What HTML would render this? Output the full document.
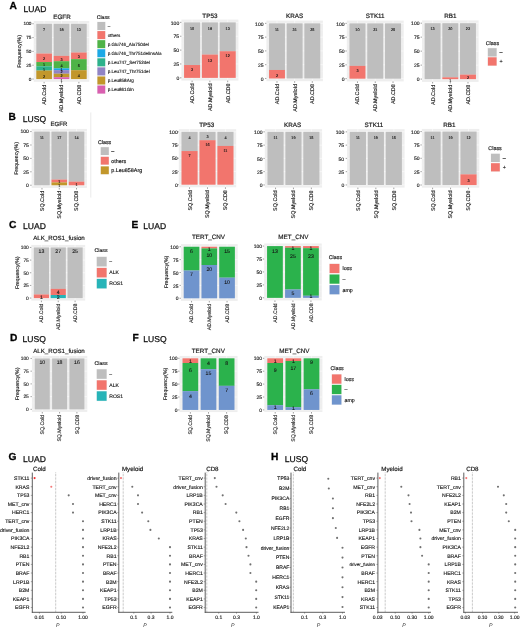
<!DOCTYPE html>
<html lang="en"><head><meta charset="utf-8"><title>Driver alterations by immune subtype</title>
<style>html,body{margin:0;padding:0;background:#fff;}body{width:520px;height:630px;overflow:hidden;}svg{display:block;font-family:"Liberation Sans", Arial, sans-serif;}text{text-rendering:geometricPrecision;}#shapes{filter:blur(0.3px);}#labels{filter:blur(0.33px);}#counts{filter:blur(0.2px);}</style></head><body>
<svg width="520" height="630" viewBox="0 0 520 630" font-family='"Liberation Sans", Arial, sans-serif'>
<rect x="0" y="0" width="520" height="630" fill="#fff"/>
<g id="shapes">
<rect x="33.70" y="21.00" width="55.60" height="60.80" fill="#EEEEEE"/>
<line x1="33.70" y1="72.13" x2="89.30" y2="72.13" stroke="#F5F5F5" stroke-width="0.3"/>
<line x1="33.70" y1="58.31" x2="89.30" y2="58.31" stroke="#F5F5F5" stroke-width="0.3"/>
<line x1="33.70" y1="44.49" x2="89.30" y2="44.49" stroke="#F5F5F5" stroke-width="0.3"/>
<line x1="33.70" y1="30.67" x2="89.30" y2="30.67" stroke="#F5F5F5" stroke-width="0.3"/>
<line x1="33.70" y1="79.04" x2="89.30" y2="79.04" stroke="#FFFFFF" stroke-width="0.55"/>
<line x1="33.70" y1="65.22" x2="89.30" y2="65.22" stroke="#FFFFFF" stroke-width="0.55"/>
<line x1="33.70" y1="51.40" x2="89.30" y2="51.40" stroke="#FFFFFF" stroke-width="0.55"/>
<line x1="33.70" y1="37.58" x2="89.30" y2="37.58" stroke="#FFFFFF" stroke-width="0.55"/>
<line x1="33.70" y1="23.76" x2="89.30" y2="23.76" stroke="#FFFFFF" stroke-width="0.55"/>
<line x1="44.12" y1="21.00" x2="44.12" y2="81.80" stroke="#FFFFFF" stroke-width="0.55"/>
<line x1="61.50" y1="21.00" x2="61.50" y2="81.80" stroke="#FFFFFF" stroke-width="0.55"/>
<line x1="78.88" y1="21.00" x2="78.88" y2="81.80" stroke="#FFFFFF" stroke-width="0.55"/>
<line x1="32.30" y1="79.04" x2="33.70" y2="79.04" stroke="#444" stroke-width="0.5"/>
<line x1="32.30" y1="65.22" x2="33.70" y2="65.22" stroke="#444" stroke-width="0.5"/>
<line x1="32.30" y1="51.40" x2="33.70" y2="51.40" stroke="#444" stroke-width="0.5"/>
<line x1="32.30" y1="37.58" x2="33.70" y2="37.58" stroke="#444" stroke-width="0.5"/>
<line x1="32.30" y1="23.76" x2="33.70" y2="23.76" stroke="#444" stroke-width="0.5"/>
<rect x="36.31" y="23.76" width="15.64" height="29.81" fill="#BEBEBE"/>
<rect x="36.31" y="53.53" width="15.64" height="8.55" fill="#F2756D"/>
<rect x="36.31" y="62.03" width="15.64" height="4.30" fill="#4FB347"/>
<rect x="36.31" y="66.28" width="15.64" height="4.30" fill="#2DB28C"/>
<rect x="36.31" y="70.53" width="15.64" height="8.55" fill="#C2972B"/>
<line x1="44.12" y1="81.80" x2="44.12" y2="83.40" stroke="#444" stroke-width="0.5"/>
<rect x="53.68" y="23.76" width="15.64" height="32.14" fill="#BEBEBE"/>
<rect x="53.68" y="55.86" width="15.64" height="5.40" fill="#F2756D"/>
<rect x="53.68" y="61.21" width="15.64" height="7.18" fill="#4FB347"/>
<rect x="53.68" y="68.34" width="15.64" height="1.83" fill="#1CA9E6"/>
<rect x="53.68" y="70.12" width="15.64" height="3.62" fill="#9184C4"/>
<rect x="53.68" y="73.69" width="15.64" height="3.62" fill="#C2972B"/>
<rect x="53.68" y="77.25" width="15.64" height="1.83" fill="#D95FB0"/>
<line x1="61.50" y1="81.80" x2="61.50" y2="83.40" stroke="#444" stroke-width="0.5"/>
<rect x="71.06" y="23.76" width="15.64" height="28.79" fill="#BEBEBE"/>
<rect x="71.06" y="52.51" width="15.64" height="6.68" fill="#F2756D"/>
<rect x="71.06" y="59.14" width="15.64" height="11.10" fill="#4FB347"/>
<rect x="71.06" y="70.19" width="15.64" height="8.89" fill="#C2972B"/>
<line x1="78.88" y1="81.80" x2="78.88" y2="83.40" stroke="#444" stroke-width="0.5"/>
<rect x="97.00" y="21.60" width="8.60" height="8.80" fill="#F2F2F2"/>
<rect x="97.40" y="22.00" width="7.80" height="8.00" fill="#BEBEBE"/>
<rect x="97.00" y="30.68" width="8.60" height="8.80" fill="#F2F2F2"/>
<rect x="97.40" y="31.08" width="7.80" height="8.00" fill="#F2756D"/>
<rect x="97.00" y="39.76" width="8.60" height="8.80" fill="#F2F2F2"/>
<rect x="97.40" y="40.16" width="7.80" height="8.00" fill="#4FB347"/>
<rect x="97.00" y="48.84" width="8.60" height="8.80" fill="#F2F2F2"/>
<rect x="97.40" y="49.24" width="7.80" height="8.00" fill="#1CA9E6"/>
<rect x="97.00" y="57.92" width="8.60" height="8.80" fill="#F2F2F2"/>
<rect x="97.40" y="58.32" width="7.80" height="8.00" fill="#2DB28C"/>
<rect x="97.00" y="67.00" width="8.60" height="8.80" fill="#F2F2F2"/>
<rect x="97.40" y="67.40" width="7.80" height="8.00" fill="#9184C4"/>
<rect x="97.00" y="76.08" width="8.60" height="8.80" fill="#F2F2F2"/>
<rect x="97.40" y="76.48" width="7.80" height="8.00" fill="#C2972B"/>
<rect x="97.00" y="85.16" width="8.60" height="8.80" fill="#F2F2F2"/>
<rect x="97.40" y="85.56" width="7.80" height="8.00" fill="#D95FB0"/>
<rect x="181.40" y="19.60" width="57.00" height="61.00" fill="#EEEEEE"/>
<line x1="181.40" y1="70.90" x2="238.40" y2="70.90" stroke="#F5F5F5" stroke-width="0.3"/>
<line x1="181.40" y1="57.03" x2="238.40" y2="57.03" stroke="#F5F5F5" stroke-width="0.3"/>
<line x1="181.40" y1="43.17" x2="238.40" y2="43.17" stroke="#F5F5F5" stroke-width="0.3"/>
<line x1="181.40" y1="29.30" x2="238.40" y2="29.30" stroke="#F5F5F5" stroke-width="0.3"/>
<line x1="181.40" y1="77.83" x2="238.40" y2="77.83" stroke="#FFFFFF" stroke-width="0.55"/>
<line x1="181.40" y1="63.96" x2="238.40" y2="63.96" stroke="#FFFFFF" stroke-width="0.55"/>
<line x1="181.40" y1="50.10" x2="238.40" y2="50.10" stroke="#FFFFFF" stroke-width="0.55"/>
<line x1="181.40" y1="36.24" x2="238.40" y2="36.24" stroke="#FFFFFF" stroke-width="0.55"/>
<line x1="181.40" y1="22.37" x2="238.40" y2="22.37" stroke="#FFFFFF" stroke-width="0.55"/>
<line x1="192.09" y1="19.60" x2="192.09" y2="80.60" stroke="#FFFFFF" stroke-width="0.55"/>
<line x1="209.90" y1="19.60" x2="209.90" y2="80.60" stroke="#FFFFFF" stroke-width="0.55"/>
<line x1="227.71" y1="19.60" x2="227.71" y2="80.60" stroke="#FFFFFF" stroke-width="0.55"/>
<line x1="180.00" y1="77.83" x2="181.40" y2="77.83" stroke="#444" stroke-width="0.5"/>
<line x1="180.00" y1="63.96" x2="181.40" y2="63.96" stroke="#444" stroke-width="0.5"/>
<line x1="180.00" y1="50.10" x2="181.40" y2="50.10" stroke="#444" stroke-width="0.5"/>
<line x1="180.00" y1="36.24" x2="181.40" y2="36.24" stroke="#444" stroke-width="0.5"/>
<line x1="180.00" y1="22.37" x2="181.40" y2="22.37" stroke="#444" stroke-width="0.5"/>
<rect x="184.07" y="22.37" width="16.03" height="42.71" fill="#BEBEBE"/>
<rect x="184.07" y="65.03" width="16.03" height="12.85" fill="#F2756D"/>
<line x1="192.09" y1="80.60" x2="192.09" y2="82.20" stroke="#444" stroke-width="0.5"/>
<rect x="201.88" y="22.37" width="16.03" height="32.25" fill="#BEBEBE"/>
<rect x="201.88" y="54.57" width="16.03" height="23.31" fill="#F2756D"/>
<line x1="209.90" y1="80.60" x2="209.90" y2="82.20" stroke="#444" stroke-width="0.5"/>
<rect x="219.70" y="22.37" width="16.03" height="28.89" fill="#BEBEBE"/>
<rect x="219.70" y="51.21" width="16.03" height="26.67" fill="#F2756D"/>
<line x1="227.71" y1="80.60" x2="227.71" y2="82.20" stroke="#444" stroke-width="0.5"/>
<rect x="266.40" y="20.60" width="56.50" height="60.60" fill="#EEEEEE"/>
<line x1="266.40" y1="71.56" x2="322.90" y2="71.56" stroke="#F5F5F5" stroke-width="0.3"/>
<line x1="266.40" y1="57.79" x2="322.90" y2="57.79" stroke="#F5F5F5" stroke-width="0.3"/>
<line x1="266.40" y1="44.01" x2="322.90" y2="44.01" stroke="#F5F5F5" stroke-width="0.3"/>
<line x1="266.40" y1="30.24" x2="322.90" y2="30.24" stroke="#F5F5F5" stroke-width="0.3"/>
<line x1="266.40" y1="78.45" x2="322.90" y2="78.45" stroke="#FFFFFF" stroke-width="0.55"/>
<line x1="266.40" y1="64.67" x2="322.90" y2="64.67" stroke="#FFFFFF" stroke-width="0.55"/>
<line x1="266.40" y1="50.90" x2="322.90" y2="50.90" stroke="#FFFFFF" stroke-width="0.55"/>
<line x1="266.40" y1="37.13" x2="322.90" y2="37.13" stroke="#FFFFFF" stroke-width="0.55"/>
<line x1="266.40" y1="23.35" x2="322.90" y2="23.35" stroke="#FFFFFF" stroke-width="0.55"/>
<line x1="276.99" y1="20.60" x2="276.99" y2="81.20" stroke="#FFFFFF" stroke-width="0.55"/>
<line x1="294.65" y1="20.60" x2="294.65" y2="81.20" stroke="#FFFFFF" stroke-width="0.55"/>
<line x1="312.31" y1="20.60" x2="312.31" y2="81.20" stroke="#FFFFFF" stroke-width="0.55"/>
<line x1="265.00" y1="78.45" x2="266.40" y2="78.45" stroke="#444" stroke-width="0.5"/>
<line x1="265.00" y1="64.67" x2="266.40" y2="64.67" stroke="#444" stroke-width="0.5"/>
<line x1="265.00" y1="50.90" x2="266.40" y2="50.90" stroke="#444" stroke-width="0.5"/>
<line x1="265.00" y1="37.13" x2="266.40" y2="37.13" stroke="#444" stroke-width="0.5"/>
<line x1="265.00" y1="23.35" x2="266.40" y2="23.35" stroke="#444" stroke-width="0.5"/>
<rect x="269.05" y="23.35" width="15.89" height="46.67" fill="#BEBEBE"/>
<rect x="269.05" y="69.97" width="15.89" height="8.53" fill="#F2756D"/>
<line x1="276.99" y1="81.20" x2="276.99" y2="82.80" stroke="#444" stroke-width="0.5"/>
<rect x="286.70" y="23.35" width="15.89" height="55.14" fill="#BEBEBE"/>
<line x1="294.65" y1="81.20" x2="294.65" y2="82.80" stroke="#444" stroke-width="0.5"/>
<rect x="304.36" y="23.35" width="15.89" height="55.14" fill="#BEBEBE"/>
<line x1="312.31" y1="81.20" x2="312.31" y2="82.80" stroke="#444" stroke-width="0.5"/>
<rect x="346.80" y="20.60" width="56.90" height="60.80" fill="#EEEEEE"/>
<line x1="346.80" y1="71.73" x2="403.70" y2="71.73" stroke="#F5F5F5" stroke-width="0.3"/>
<line x1="346.80" y1="57.91" x2="403.70" y2="57.91" stroke="#F5F5F5" stroke-width="0.3"/>
<line x1="346.80" y1="44.09" x2="403.70" y2="44.09" stroke="#F5F5F5" stroke-width="0.3"/>
<line x1="346.80" y1="30.27" x2="403.70" y2="30.27" stroke="#F5F5F5" stroke-width="0.3"/>
<line x1="346.80" y1="78.64" x2="403.70" y2="78.64" stroke="#FFFFFF" stroke-width="0.55"/>
<line x1="346.80" y1="64.82" x2="403.70" y2="64.82" stroke="#FFFFFF" stroke-width="0.55"/>
<line x1="346.80" y1="51.00" x2="403.70" y2="51.00" stroke="#FFFFFF" stroke-width="0.55"/>
<line x1="346.80" y1="37.18" x2="403.70" y2="37.18" stroke="#FFFFFF" stroke-width="0.55"/>
<line x1="346.80" y1="23.36" x2="403.70" y2="23.36" stroke="#FFFFFF" stroke-width="0.55"/>
<line x1="357.47" y1="20.60" x2="357.47" y2="81.40" stroke="#FFFFFF" stroke-width="0.55"/>
<line x1="375.25" y1="20.60" x2="375.25" y2="81.40" stroke="#FFFFFF" stroke-width="0.55"/>
<line x1="393.03" y1="20.60" x2="393.03" y2="81.40" stroke="#FFFFFF" stroke-width="0.55"/>
<line x1="345.40" y1="78.64" x2="346.80" y2="78.64" stroke="#444" stroke-width="0.5"/>
<line x1="345.40" y1="64.82" x2="346.80" y2="64.82" stroke="#444" stroke-width="0.5"/>
<line x1="345.40" y1="51.00" x2="346.80" y2="51.00" stroke="#444" stroke-width="0.5"/>
<line x1="345.40" y1="37.18" x2="346.80" y2="37.18" stroke="#444" stroke-width="0.5"/>
<line x1="345.40" y1="23.36" x2="346.80" y2="23.36" stroke="#444" stroke-width="0.5"/>
<rect x="349.47" y="23.36" width="16.00" height="42.57" fill="#BEBEBE"/>
<rect x="349.47" y="65.88" width="16.00" height="12.81" fill="#F2756D"/>
<line x1="357.47" y1="81.40" x2="357.47" y2="83.00" stroke="#444" stroke-width="0.5"/>
<rect x="367.25" y="23.36" width="16.00" height="55.32" fill="#BEBEBE"/>
<line x1="375.25" y1="81.40" x2="375.25" y2="83.00" stroke="#444" stroke-width="0.5"/>
<rect x="385.03" y="23.36" width="16.00" height="55.32" fill="#BEBEBE"/>
<line x1="393.03" y1="81.40" x2="393.03" y2="83.00" stroke="#444" stroke-width="0.5"/>
<rect x="422.00" y="20.40" width="56.60" height="61.50" fill="#EEEEEE"/>
<line x1="422.00" y1="72.12" x2="478.60" y2="72.12" stroke="#F5F5F5" stroke-width="0.3"/>
<line x1="422.00" y1="58.14" x2="478.60" y2="58.14" stroke="#F5F5F5" stroke-width="0.3"/>
<line x1="422.00" y1="44.16" x2="478.60" y2="44.16" stroke="#F5F5F5" stroke-width="0.3"/>
<line x1="422.00" y1="30.18" x2="478.60" y2="30.18" stroke="#F5F5F5" stroke-width="0.3"/>
<line x1="422.00" y1="79.10" x2="478.60" y2="79.10" stroke="#FFFFFF" stroke-width="0.55"/>
<line x1="422.00" y1="65.13" x2="478.60" y2="65.13" stroke="#FFFFFF" stroke-width="0.55"/>
<line x1="422.00" y1="51.15" x2="478.60" y2="51.15" stroke="#FFFFFF" stroke-width="0.55"/>
<line x1="422.00" y1="37.17" x2="478.60" y2="37.17" stroke="#FFFFFF" stroke-width="0.55"/>
<line x1="422.00" y1="23.20" x2="478.60" y2="23.20" stroke="#FFFFFF" stroke-width="0.55"/>
<line x1="432.61" y1="20.40" x2="432.61" y2="81.90" stroke="#FFFFFF" stroke-width="0.55"/>
<line x1="450.30" y1="20.40" x2="450.30" y2="81.90" stroke="#FFFFFF" stroke-width="0.55"/>
<line x1="467.99" y1="20.40" x2="467.99" y2="81.90" stroke="#FFFFFF" stroke-width="0.55"/>
<line x1="420.60" y1="79.10" x2="422.00" y2="79.10" stroke="#444" stroke-width="0.5"/>
<line x1="420.60" y1="65.13" x2="422.00" y2="65.13" stroke="#444" stroke-width="0.5"/>
<line x1="420.60" y1="51.15" x2="422.00" y2="51.15" stroke="#444" stroke-width="0.5"/>
<line x1="420.60" y1="37.17" x2="422.00" y2="37.17" stroke="#444" stroke-width="0.5"/>
<line x1="420.60" y1="23.20" x2="422.00" y2="23.20" stroke="#444" stroke-width="0.5"/>
<rect x="424.65" y="23.20" width="15.92" height="55.96" fill="#BEBEBE"/>
<line x1="432.61" y1="81.90" x2="432.61" y2="83.50" stroke="#444" stroke-width="0.5"/>
<rect x="442.34" y="23.20" width="15.92" height="54.16" fill="#BEBEBE"/>
<rect x="442.34" y="77.30" width="15.92" height="1.85" fill="#F2756D"/>
<line x1="450.30" y1="81.90" x2="450.30" y2="83.50" stroke="#444" stroke-width="0.5"/>
<rect x="460.03" y="23.20" width="15.92" height="51.49" fill="#BEBEBE"/>
<rect x="460.03" y="74.63" width="15.92" height="4.52" fill="#F2756D"/>
<line x1="467.99" y1="81.90" x2="467.99" y2="83.50" stroke="#444" stroke-width="0.5"/>
<rect x="487.50" y="47.80" width="9.50" height="9.10" fill="#F2F2F2"/>
<rect x="487.90" y="48.20" width="8.70" height="8.30" fill="#BEBEBE"/>
<rect x="487.50" y="56.90" width="9.50" height="9.10" fill="#F2F2F2"/>
<rect x="487.90" y="57.30" width="8.70" height="8.30" fill="#F2756D"/>
<line x1="90.80" y1="112.50" x2="90.80" y2="197.50" stroke="#DADADA" stroke-width="0.6"/>
<rect x="31.60" y="128.90" width="55.30" height="59.00" fill="#EEEEEE"/>
<line x1="31.60" y1="178.51" x2="86.90" y2="178.51" stroke="#F5F5F5" stroke-width="0.3"/>
<line x1="31.60" y1="165.10" x2="86.90" y2="165.10" stroke="#F5F5F5" stroke-width="0.3"/>
<line x1="31.60" y1="151.70" x2="86.90" y2="151.70" stroke="#F5F5F5" stroke-width="0.3"/>
<line x1="31.60" y1="138.29" x2="86.90" y2="138.29" stroke="#F5F5F5" stroke-width="0.3"/>
<line x1="31.60" y1="185.22" x2="86.90" y2="185.22" stroke="#FFFFFF" stroke-width="0.55"/>
<line x1="31.60" y1="171.81" x2="86.90" y2="171.81" stroke="#FFFFFF" stroke-width="0.55"/>
<line x1="31.60" y1="158.40" x2="86.90" y2="158.40" stroke="#FFFFFF" stroke-width="0.55"/>
<line x1="31.60" y1="144.99" x2="86.90" y2="144.99" stroke="#FFFFFF" stroke-width="0.55"/>
<line x1="31.60" y1="131.58" x2="86.90" y2="131.58" stroke="#FFFFFF" stroke-width="0.55"/>
<line x1="41.97" y1="128.90" x2="41.97" y2="187.90" stroke="#FFFFFF" stroke-width="0.55"/>
<line x1="59.25" y1="128.90" x2="59.25" y2="187.90" stroke="#FFFFFF" stroke-width="0.55"/>
<line x1="76.53" y1="128.90" x2="76.53" y2="187.90" stroke="#FFFFFF" stroke-width="0.55"/>
<line x1="30.20" y1="185.22" x2="31.60" y2="185.22" stroke="#444" stroke-width="0.5"/>
<line x1="30.20" y1="171.81" x2="31.60" y2="171.81" stroke="#444" stroke-width="0.5"/>
<line x1="30.20" y1="158.40" x2="31.60" y2="158.40" stroke="#444" stroke-width="0.5"/>
<line x1="30.20" y1="144.99" x2="31.60" y2="144.99" stroke="#444" stroke-width="0.5"/>
<line x1="30.20" y1="131.58" x2="31.60" y2="131.58" stroke="#444" stroke-width="0.5"/>
<rect x="34.19" y="131.58" width="15.55" height="53.69" fill="#BEBEBE"/>
<line x1="41.97" y1="187.90" x2="41.97" y2="189.50" stroke="#444" stroke-width="0.5"/>
<rect x="51.47" y="131.58" width="15.55" height="48.04" fill="#BEBEBE"/>
<rect x="51.47" y="179.57" width="15.55" height="2.87" fill="#F2756D"/>
<rect x="51.47" y="182.40" width="15.55" height="2.87" fill="#C2972B"/>
<line x1="59.25" y1="187.90" x2="59.25" y2="189.50" stroke="#444" stroke-width="0.5"/>
<rect x="68.75" y="131.58" width="15.55" height="50.11" fill="#BEBEBE"/>
<rect x="68.75" y="181.64" width="15.55" height="3.63" fill="#F2756D"/>
<line x1="76.53" y1="187.90" x2="76.53" y2="189.50" stroke="#444" stroke-width="0.5"/>
<rect x="100.40" y="146.80" width="8.80" height="8.60" fill="#F2F2F2"/>
<rect x="100.80" y="147.20" width="8.00" height="7.80" fill="#BEBEBE"/>
<rect x="100.40" y="156.40" width="8.80" height="8.60" fill="#F2F2F2"/>
<rect x="100.80" y="156.80" width="8.00" height="7.80" fill="#F2756D"/>
<rect x="100.40" y="166.00" width="8.80" height="8.60" fill="#F2F2F2"/>
<rect x="100.80" y="166.40" width="8.00" height="7.80" fill="#C2972B"/>
<rect x="178.80" y="129.20" width="57.40" height="58.10" fill="#EEEEEE"/>
<line x1="178.80" y1="178.06" x2="236.20" y2="178.06" stroke="#F5F5F5" stroke-width="0.3"/>
<line x1="178.80" y1="164.85" x2="236.20" y2="164.85" stroke="#F5F5F5" stroke-width="0.3"/>
<line x1="178.80" y1="151.65" x2="236.20" y2="151.65" stroke="#F5F5F5" stroke-width="0.3"/>
<line x1="178.80" y1="138.44" x2="236.20" y2="138.44" stroke="#F5F5F5" stroke-width="0.3"/>
<line x1="178.80" y1="184.66" x2="236.20" y2="184.66" stroke="#FFFFFF" stroke-width="0.55"/>
<line x1="178.80" y1="171.45" x2="236.20" y2="171.45" stroke="#FFFFFF" stroke-width="0.55"/>
<line x1="178.80" y1="158.25" x2="236.20" y2="158.25" stroke="#FFFFFF" stroke-width="0.55"/>
<line x1="178.80" y1="145.05" x2="236.20" y2="145.05" stroke="#FFFFFF" stroke-width="0.55"/>
<line x1="178.80" y1="131.84" x2="236.20" y2="131.84" stroke="#FFFFFF" stroke-width="0.55"/>
<line x1="189.56" y1="129.20" x2="189.56" y2="187.30" stroke="#FFFFFF" stroke-width="0.55"/>
<line x1="207.50" y1="129.20" x2="207.50" y2="187.30" stroke="#FFFFFF" stroke-width="0.55"/>
<line x1="225.44" y1="129.20" x2="225.44" y2="187.30" stroke="#FFFFFF" stroke-width="0.55"/>
<line x1="177.40" y1="184.66" x2="178.80" y2="184.66" stroke="#444" stroke-width="0.5"/>
<line x1="177.40" y1="171.45" x2="178.80" y2="171.45" stroke="#444" stroke-width="0.5"/>
<line x1="177.40" y1="158.25" x2="178.80" y2="158.25" stroke="#444" stroke-width="0.5"/>
<line x1="177.40" y1="145.05" x2="178.80" y2="145.05" stroke="#444" stroke-width="0.5"/>
<line x1="177.40" y1="131.84" x2="178.80" y2="131.84" stroke="#444" stroke-width="0.5"/>
<rect x="181.49" y="131.84" width="16.14" height="19.26" fill="#BEBEBE"/>
<rect x="181.49" y="151.05" width="16.14" height="33.66" fill="#F2756D"/>
<line x1="189.56" y1="187.30" x2="189.56" y2="188.90" stroke="#444" stroke-width="0.5"/>
<rect x="199.43" y="131.84" width="16.14" height="8.39" fill="#BEBEBE"/>
<rect x="199.43" y="140.18" width="16.14" height="44.53" fill="#F2756D"/>
<line x1="207.50" y1="187.30" x2="207.50" y2="188.90" stroke="#444" stroke-width="0.5"/>
<rect x="217.37" y="131.84" width="16.14" height="14.13" fill="#BEBEBE"/>
<rect x="217.37" y="145.93" width="16.14" height="38.78" fill="#F2756D"/>
<line x1="225.44" y1="187.30" x2="225.44" y2="188.90" stroke="#444" stroke-width="0.5"/>
<rect x="264.80" y="129.20" width="57.30" height="58.40" fill="#EEEEEE"/>
<line x1="264.80" y1="178.31" x2="322.10" y2="178.31" stroke="#F5F5F5" stroke-width="0.3"/>
<line x1="264.80" y1="165.04" x2="322.10" y2="165.04" stroke="#F5F5F5" stroke-width="0.3"/>
<line x1="264.80" y1="151.76" x2="322.10" y2="151.76" stroke="#F5F5F5" stroke-width="0.3"/>
<line x1="264.80" y1="138.49" x2="322.10" y2="138.49" stroke="#F5F5F5" stroke-width="0.3"/>
<line x1="264.80" y1="184.95" x2="322.10" y2="184.95" stroke="#FFFFFF" stroke-width="0.55"/>
<line x1="264.80" y1="171.67" x2="322.10" y2="171.67" stroke="#FFFFFF" stroke-width="0.55"/>
<line x1="264.80" y1="158.40" x2="322.10" y2="158.40" stroke="#FFFFFF" stroke-width="0.55"/>
<line x1="264.80" y1="145.13" x2="322.10" y2="145.13" stroke="#FFFFFF" stroke-width="0.55"/>
<line x1="264.80" y1="131.85" x2="322.10" y2="131.85" stroke="#FFFFFF" stroke-width="0.55"/>
<line x1="275.54" y1="129.20" x2="275.54" y2="187.60" stroke="#FFFFFF" stroke-width="0.55"/>
<line x1="293.45" y1="129.20" x2="293.45" y2="187.60" stroke="#FFFFFF" stroke-width="0.55"/>
<line x1="311.36" y1="129.20" x2="311.36" y2="187.60" stroke="#FFFFFF" stroke-width="0.55"/>
<line x1="263.40" y1="184.95" x2="264.80" y2="184.95" stroke="#444" stroke-width="0.5"/>
<line x1="263.40" y1="171.67" x2="264.80" y2="171.67" stroke="#444" stroke-width="0.5"/>
<line x1="263.40" y1="158.40" x2="264.80" y2="158.40" stroke="#444" stroke-width="0.5"/>
<line x1="263.40" y1="145.13" x2="264.80" y2="145.13" stroke="#444" stroke-width="0.5"/>
<line x1="263.40" y1="131.85" x2="264.80" y2="131.85" stroke="#444" stroke-width="0.5"/>
<rect x="267.49" y="131.85" width="16.12" height="53.14" fill="#BEBEBE"/>
<line x1="275.54" y1="187.60" x2="275.54" y2="189.20" stroke="#444" stroke-width="0.5"/>
<rect x="285.39" y="131.85" width="16.12" height="53.14" fill="#BEBEBE"/>
<line x1="293.45" y1="187.60" x2="293.45" y2="189.20" stroke="#444" stroke-width="0.5"/>
<rect x="303.30" y="131.85" width="16.12" height="53.14" fill="#BEBEBE"/>
<line x1="311.36" y1="187.60" x2="311.36" y2="189.20" stroke="#444" stroke-width="0.5"/>
<rect x="347.10" y="129.20" width="57.50" height="58.40" fill="#EEEEEE"/>
<line x1="347.10" y1="178.31" x2="404.60" y2="178.31" stroke="#F5F5F5" stroke-width="0.3"/>
<line x1="347.10" y1="165.04" x2="404.60" y2="165.04" stroke="#F5F5F5" stroke-width="0.3"/>
<line x1="347.10" y1="151.76" x2="404.60" y2="151.76" stroke="#F5F5F5" stroke-width="0.3"/>
<line x1="347.10" y1="138.49" x2="404.60" y2="138.49" stroke="#F5F5F5" stroke-width="0.3"/>
<line x1="347.10" y1="184.95" x2="404.60" y2="184.95" stroke="#FFFFFF" stroke-width="0.55"/>
<line x1="347.10" y1="171.67" x2="404.60" y2="171.67" stroke="#FFFFFF" stroke-width="0.55"/>
<line x1="347.10" y1="158.40" x2="404.60" y2="158.40" stroke="#FFFFFF" stroke-width="0.55"/>
<line x1="347.10" y1="145.13" x2="404.60" y2="145.13" stroke="#FFFFFF" stroke-width="0.55"/>
<line x1="347.10" y1="131.85" x2="404.60" y2="131.85" stroke="#FFFFFF" stroke-width="0.55"/>
<line x1="357.88" y1="129.20" x2="357.88" y2="187.60" stroke="#FFFFFF" stroke-width="0.55"/>
<line x1="375.85" y1="129.20" x2="375.85" y2="187.60" stroke="#FFFFFF" stroke-width="0.55"/>
<line x1="393.82" y1="129.20" x2="393.82" y2="187.60" stroke="#FFFFFF" stroke-width="0.55"/>
<line x1="345.70" y1="184.95" x2="347.10" y2="184.95" stroke="#444" stroke-width="0.5"/>
<line x1="345.70" y1="171.67" x2="347.10" y2="171.67" stroke="#444" stroke-width="0.5"/>
<line x1="345.70" y1="158.40" x2="347.10" y2="158.40" stroke="#444" stroke-width="0.5"/>
<line x1="345.70" y1="145.13" x2="347.10" y2="145.13" stroke="#444" stroke-width="0.5"/>
<line x1="345.70" y1="131.85" x2="347.10" y2="131.85" stroke="#444" stroke-width="0.5"/>
<rect x="349.80" y="131.85" width="16.17" height="53.14" fill="#BEBEBE"/>
<line x1="357.88" y1="187.60" x2="357.88" y2="189.20" stroke="#444" stroke-width="0.5"/>
<rect x="367.76" y="131.85" width="16.17" height="53.14" fill="#BEBEBE"/>
<line x1="375.85" y1="187.60" x2="375.85" y2="189.20" stroke="#444" stroke-width="0.5"/>
<rect x="385.73" y="131.85" width="16.17" height="53.14" fill="#BEBEBE"/>
<line x1="393.82" y1="187.60" x2="393.82" y2="189.20" stroke="#444" stroke-width="0.5"/>
<rect x="421.80" y="128.90" width="57.50" height="58.80" fill="#EEEEEE"/>
<line x1="421.80" y1="178.35" x2="479.30" y2="178.35" stroke="#F5F5F5" stroke-width="0.3"/>
<line x1="421.80" y1="164.98" x2="479.30" y2="164.98" stroke="#F5F5F5" stroke-width="0.3"/>
<line x1="421.80" y1="151.62" x2="479.30" y2="151.62" stroke="#F5F5F5" stroke-width="0.3"/>
<line x1="421.80" y1="138.25" x2="479.30" y2="138.25" stroke="#F5F5F5" stroke-width="0.3"/>
<line x1="421.80" y1="185.03" x2="479.30" y2="185.03" stroke="#FFFFFF" stroke-width="0.55"/>
<line x1="421.80" y1="171.66" x2="479.30" y2="171.66" stroke="#FFFFFF" stroke-width="0.55"/>
<line x1="421.80" y1="158.30" x2="479.30" y2="158.30" stroke="#FFFFFF" stroke-width="0.55"/>
<line x1="421.80" y1="144.94" x2="479.30" y2="144.94" stroke="#FFFFFF" stroke-width="0.55"/>
<line x1="421.80" y1="131.57" x2="479.30" y2="131.57" stroke="#FFFFFF" stroke-width="0.55"/>
<line x1="432.58" y1="128.90" x2="432.58" y2="187.70" stroke="#FFFFFF" stroke-width="0.55"/>
<line x1="450.55" y1="128.90" x2="450.55" y2="187.70" stroke="#FFFFFF" stroke-width="0.55"/>
<line x1="468.52" y1="128.90" x2="468.52" y2="187.70" stroke="#FFFFFF" stroke-width="0.55"/>
<line x1="420.40" y1="185.03" x2="421.80" y2="185.03" stroke="#444" stroke-width="0.5"/>
<line x1="420.40" y1="171.66" x2="421.80" y2="171.66" stroke="#444" stroke-width="0.5"/>
<line x1="420.40" y1="158.30" x2="421.80" y2="158.30" stroke="#444" stroke-width="0.5"/>
<line x1="420.40" y1="144.94" x2="421.80" y2="144.94" stroke="#444" stroke-width="0.5"/>
<line x1="420.40" y1="131.57" x2="421.80" y2="131.57" stroke="#444" stroke-width="0.5"/>
<rect x="424.50" y="131.57" width="16.17" height="53.50" fill="#BEBEBE"/>
<line x1="432.58" y1="187.70" x2="432.58" y2="189.30" stroke="#444" stroke-width="0.5"/>
<rect x="442.46" y="131.57" width="16.17" height="53.50" fill="#BEBEBE"/>
<line x1="450.55" y1="187.70" x2="450.55" y2="189.30" stroke="#444" stroke-width="0.5"/>
<rect x="460.43" y="131.57" width="16.17" height="42.81" fill="#BEBEBE"/>
<rect x="460.43" y="174.34" width="16.17" height="10.74" fill="#F2756D"/>
<line x1="468.52" y1="187.70" x2="468.52" y2="189.30" stroke="#444" stroke-width="0.5"/>
<rect x="490.60" y="153.40" width="9.60" height="9.00" fill="#F2F2F2"/>
<rect x="491.00" y="153.80" width="8.80" height="8.20" fill="#BEBEBE"/>
<rect x="490.60" y="162.80" width="9.60" height="9.00" fill="#F2F2F2"/>
<rect x="491.00" y="163.20" width="8.80" height="8.20" fill="#F2756D"/>
<rect x="31.30" y="244.90" width="53.90" height="55.70" fill="#EEEEEE"/>
<line x1="31.30" y1="291.74" x2="85.20" y2="291.74" stroke="#F5F5F5" stroke-width="0.3"/>
<line x1="31.30" y1="279.08" x2="85.20" y2="279.08" stroke="#F5F5F5" stroke-width="0.3"/>
<line x1="31.30" y1="266.42" x2="85.20" y2="266.42" stroke="#F5F5F5" stroke-width="0.3"/>
<line x1="31.30" y1="253.76" x2="85.20" y2="253.76" stroke="#F5F5F5" stroke-width="0.3"/>
<line x1="31.30" y1="298.07" x2="85.20" y2="298.07" stroke="#FFFFFF" stroke-width="0.55"/>
<line x1="31.30" y1="285.41" x2="85.20" y2="285.41" stroke="#FFFFFF" stroke-width="0.55"/>
<line x1="31.30" y1="272.75" x2="85.20" y2="272.75" stroke="#FFFFFF" stroke-width="0.55"/>
<line x1="31.30" y1="260.09" x2="85.20" y2="260.09" stroke="#FFFFFF" stroke-width="0.55"/>
<line x1="31.30" y1="247.43" x2="85.20" y2="247.43" stroke="#FFFFFF" stroke-width="0.55"/>
<line x1="41.41" y1="244.90" x2="41.41" y2="300.60" stroke="#FFFFFF" stroke-width="0.55"/>
<line x1="58.25" y1="244.90" x2="58.25" y2="300.60" stroke="#FFFFFF" stroke-width="0.55"/>
<line x1="75.09" y1="244.90" x2="75.09" y2="300.60" stroke="#FFFFFF" stroke-width="0.55"/>
<line x1="29.90" y1="298.07" x2="31.30" y2="298.07" stroke="#444" stroke-width="0.5"/>
<line x1="29.90" y1="285.41" x2="31.30" y2="285.41" stroke="#444" stroke-width="0.5"/>
<line x1="29.90" y1="272.75" x2="31.30" y2="272.75" stroke="#444" stroke-width="0.5"/>
<line x1="29.90" y1="260.09" x2="31.30" y2="260.09" stroke="#444" stroke-width="0.5"/>
<line x1="29.90" y1="247.43" x2="31.30" y2="247.43" stroke="#444" stroke-width="0.5"/>
<rect x="33.83" y="247.43" width="15.16" height="47.07" fill="#BEBEBE"/>
<rect x="33.83" y="294.45" width="15.16" height="3.67" fill="#F2756D"/>
<line x1="41.41" y1="300.60" x2="41.41" y2="302.20" stroke="#444" stroke-width="0.5"/>
<rect x="50.67" y="247.43" width="15.16" height="41.48" fill="#BEBEBE"/>
<rect x="50.67" y="288.86" width="15.16" height="6.19" fill="#F2756D"/>
<rect x="50.67" y="295.00" width="15.16" height="3.12" fill="#27B4B8"/>
<line x1="58.25" y1="300.60" x2="58.25" y2="302.20" stroke="#444" stroke-width="0.5"/>
<rect x="67.51" y="247.43" width="15.16" height="50.69" fill="#BEBEBE"/>
<line x1="75.09" y1="300.60" x2="75.09" y2="302.20" stroke="#444" stroke-width="0.5"/>
<rect x="96.40" y="256.50" width="10.60" height="10.30" fill="#F2F2F2"/>
<rect x="96.80" y="256.90" width="9.80" height="9.50" fill="#BEBEBE"/>
<rect x="96.40" y="267.50" width="10.60" height="10.30" fill="#F2F2F2"/>
<rect x="96.80" y="267.90" width="9.80" height="9.50" fill="#F2756D"/>
<rect x="96.40" y="278.50" width="10.60" height="10.30" fill="#F2F2F2"/>
<rect x="96.80" y="278.90" width="9.80" height="9.50" fill="#27B4B8"/>
<rect x="31.90" y="355.90" width="55.40" height="56.00" fill="#EEEEEE"/>
<line x1="31.90" y1="402.99" x2="87.30" y2="402.99" stroke="#F5F5F5" stroke-width="0.3"/>
<line x1="31.90" y1="390.26" x2="87.30" y2="390.26" stroke="#F5F5F5" stroke-width="0.3"/>
<line x1="31.90" y1="377.54" x2="87.30" y2="377.54" stroke="#F5F5F5" stroke-width="0.3"/>
<line x1="31.90" y1="364.81" x2="87.30" y2="364.81" stroke="#F5F5F5" stroke-width="0.3"/>
<line x1="31.90" y1="409.35" x2="87.30" y2="409.35" stroke="#FFFFFF" stroke-width="0.55"/>
<line x1="31.90" y1="396.63" x2="87.30" y2="396.63" stroke="#FFFFFF" stroke-width="0.55"/>
<line x1="31.90" y1="383.90" x2="87.30" y2="383.90" stroke="#FFFFFF" stroke-width="0.55"/>
<line x1="31.90" y1="371.17" x2="87.30" y2="371.17" stroke="#FFFFFF" stroke-width="0.55"/>
<line x1="31.90" y1="358.45" x2="87.30" y2="358.45" stroke="#FFFFFF" stroke-width="0.55"/>
<line x1="42.29" y1="355.90" x2="42.29" y2="411.90" stroke="#FFFFFF" stroke-width="0.55"/>
<line x1="59.60" y1="355.90" x2="59.60" y2="411.90" stroke="#FFFFFF" stroke-width="0.55"/>
<line x1="76.91" y1="355.90" x2="76.91" y2="411.90" stroke="#FFFFFF" stroke-width="0.55"/>
<line x1="30.50" y1="409.35" x2="31.90" y2="409.35" stroke="#444" stroke-width="0.5"/>
<line x1="30.50" y1="396.63" x2="31.90" y2="396.63" stroke="#444" stroke-width="0.5"/>
<line x1="30.50" y1="383.90" x2="31.90" y2="383.90" stroke="#444" stroke-width="0.5"/>
<line x1="30.50" y1="371.17" x2="31.90" y2="371.17" stroke="#444" stroke-width="0.5"/>
<line x1="30.50" y1="358.45" x2="31.90" y2="358.45" stroke="#444" stroke-width="0.5"/>
<rect x="34.80" y="358.45" width="14.98" height="50.96" fill="#BEBEBE"/>
<line x1="42.29" y1="411.90" x2="42.29" y2="413.50" stroke="#444" stroke-width="0.5"/>
<rect x="52.11" y="358.45" width="14.98" height="50.96" fill="#BEBEBE"/>
<line x1="59.60" y1="411.90" x2="59.60" y2="413.50" stroke="#444" stroke-width="0.5"/>
<rect x="69.42" y="358.45" width="14.98" height="50.96" fill="#BEBEBE"/>
<line x1="76.91" y1="411.90" x2="76.91" y2="413.50" stroke="#444" stroke-width="0.5"/>
<rect x="96.40" y="368.90" width="10.60" height="10.30" fill="#F2F2F2"/>
<rect x="96.80" y="369.30" width="9.80" height="9.50" fill="#BEBEBE"/>
<rect x="96.40" y="379.90" width="10.60" height="10.30" fill="#F2F2F2"/>
<rect x="96.80" y="380.30" width="9.80" height="9.50" fill="#F2756D"/>
<rect x="96.40" y="390.90" width="10.60" height="10.30" fill="#F2F2F2"/>
<rect x="96.80" y="391.30" width="9.80" height="9.50" fill="#27B4B8"/>
<rect x="180.90" y="244.15" width="56.80" height="56.70" fill="#EEEEEE"/>
<line x1="180.90" y1="291.83" x2="237.70" y2="291.83" stroke="#F5F5F5" stroke-width="0.3"/>
<line x1="180.90" y1="278.94" x2="237.70" y2="278.94" stroke="#F5F5F5" stroke-width="0.3"/>
<line x1="180.90" y1="266.06" x2="237.70" y2="266.06" stroke="#F5F5F5" stroke-width="0.3"/>
<line x1="180.90" y1="253.17" x2="237.70" y2="253.17" stroke="#F5F5F5" stroke-width="0.3"/>
<line x1="180.90" y1="298.27" x2="237.70" y2="298.27" stroke="#FFFFFF" stroke-width="0.55"/>
<line x1="180.90" y1="285.39" x2="237.70" y2="285.39" stroke="#FFFFFF" stroke-width="0.55"/>
<line x1="180.90" y1="272.50" x2="237.70" y2="272.50" stroke="#FFFFFF" stroke-width="0.55"/>
<line x1="180.90" y1="259.61" x2="237.70" y2="259.61" stroke="#FFFFFF" stroke-width="0.55"/>
<line x1="180.90" y1="246.73" x2="237.70" y2="246.73" stroke="#FFFFFF" stroke-width="0.55"/>
<line x1="191.55" y1="244.15" x2="191.55" y2="300.85" stroke="#FFFFFF" stroke-width="0.55"/>
<line x1="209.30" y1="244.15" x2="209.30" y2="300.85" stroke="#FFFFFF" stroke-width="0.55"/>
<line x1="227.05" y1="244.15" x2="227.05" y2="300.85" stroke="#FFFFFF" stroke-width="0.55"/>
<line x1="179.50" y1="298.27" x2="180.90" y2="298.27" stroke="#444" stroke-width="0.5"/>
<line x1="179.50" y1="285.39" x2="180.90" y2="285.39" stroke="#444" stroke-width="0.5"/>
<line x1="179.50" y1="272.50" x2="180.90" y2="272.50" stroke="#444" stroke-width="0.5"/>
<line x1="179.50" y1="259.61" x2="180.90" y2="259.61" stroke="#444" stroke-width="0.5"/>
<line x1="179.50" y1="246.73" x2="180.90" y2="246.73" stroke="#444" stroke-width="0.5"/>
<rect x="183.71" y="246.73" width="15.67" height="23.84" fill="#2BB24C"/>
<rect x="183.71" y="270.52" width="15.67" height="27.81" fill="#6F94CD"/>
<line x1="191.55" y1="300.85" x2="191.55" y2="302.45" stroke="#444" stroke-width="0.5"/>
<rect x="201.46" y="246.73" width="15.67" height="1.71" fill="#F2756D"/>
<rect x="201.46" y="248.39" width="15.67" height="16.68" fill="#2BB24C"/>
<rect x="201.46" y="265.02" width="15.67" height="33.31" fill="#6F94CD"/>
<line x1="209.30" y1="300.85" x2="209.30" y2="302.45" stroke="#444" stroke-width="0.5"/>
<rect x="219.21" y="246.73" width="15.67" height="30.98" fill="#2BB24C"/>
<rect x="219.21" y="277.65" width="15.67" height="20.67" fill="#6F94CD"/>
<line x1="227.05" y1="300.85" x2="227.05" y2="302.45" stroke="#444" stroke-width="0.5"/>
<rect x="264.15" y="243.50" width="57.60" height="56.90" fill="#EEEEEE"/>
<line x1="264.15" y1="291.35" x2="321.75" y2="291.35" stroke="#F5F5F5" stroke-width="0.3"/>
<line x1="264.15" y1="278.42" x2="321.75" y2="278.42" stroke="#F5F5F5" stroke-width="0.3"/>
<line x1="264.15" y1="265.48" x2="321.75" y2="265.48" stroke="#F5F5F5" stroke-width="0.3"/>
<line x1="264.15" y1="252.55" x2="321.75" y2="252.55" stroke="#F5F5F5" stroke-width="0.3"/>
<line x1="264.15" y1="297.81" x2="321.75" y2="297.81" stroke="#FFFFFF" stroke-width="0.55"/>
<line x1="264.15" y1="284.88" x2="321.75" y2="284.88" stroke="#FFFFFF" stroke-width="0.55"/>
<line x1="264.15" y1="271.95" x2="321.75" y2="271.95" stroke="#FFFFFF" stroke-width="0.55"/>
<line x1="264.15" y1="259.02" x2="321.75" y2="259.02" stroke="#FFFFFF" stroke-width="0.55"/>
<line x1="264.15" y1="246.09" x2="321.75" y2="246.09" stroke="#FFFFFF" stroke-width="0.55"/>
<line x1="274.95" y1="243.50" x2="274.95" y2="300.40" stroke="#FFFFFF" stroke-width="0.55"/>
<line x1="292.95" y1="243.50" x2="292.95" y2="300.40" stroke="#FFFFFF" stroke-width="0.55"/>
<line x1="310.95" y1="243.50" x2="310.95" y2="300.40" stroke="#FFFFFF" stroke-width="0.55"/>
<line x1="262.75" y1="297.81" x2="264.15" y2="297.81" stroke="#444" stroke-width="0.5"/>
<line x1="262.75" y1="284.88" x2="264.15" y2="284.88" stroke="#444" stroke-width="0.5"/>
<line x1="262.75" y1="271.95" x2="264.15" y2="271.95" stroke="#444" stroke-width="0.5"/>
<line x1="262.75" y1="259.02" x2="264.15" y2="259.02" stroke="#444" stroke-width="0.5"/>
<line x1="262.75" y1="246.09" x2="264.15" y2="246.09" stroke="#444" stroke-width="0.5"/>
<rect x="267.07" y="246.09" width="15.75" height="51.78" fill="#2BB24C"/>
<line x1="274.95" y1="300.40" x2="274.95" y2="302.00" stroke="#444" stroke-width="0.5"/>
<rect x="285.07" y="246.09" width="15.75" height="1.72" fill="#F2756D"/>
<rect x="285.07" y="247.75" width="15.75" height="41.77" fill="#2BB24C"/>
<rect x="285.07" y="289.47" width="15.75" height="8.39" fill="#6F94CD"/>
<line x1="292.95" y1="300.40" x2="292.95" y2="302.00" stroke="#444" stroke-width="0.5"/>
<rect x="303.07" y="246.09" width="15.75" height="2.12" fill="#F2756D"/>
<rect x="303.07" y="248.16" width="15.75" height="47.64" fill="#2BB24C"/>
<rect x="303.07" y="295.74" width="15.75" height="2.12" fill="#6F94CD"/>
<line x1="310.95" y1="300.40" x2="310.95" y2="302.00" stroke="#444" stroke-width="0.5"/>
<rect x="329.20" y="263.50" width="10.60" height="10.00" fill="#F2F2F2"/>
<rect x="329.60" y="263.90" width="9.80" height="9.20" fill="#F2756D"/>
<rect x="329.20" y="274.10" width="10.60" height="10.00" fill="#F2F2F2"/>
<rect x="329.60" y="274.50" width="9.80" height="9.20" fill="#2BB24C"/>
<rect x="329.20" y="284.70" width="10.60" height="10.00" fill="#F2F2F2"/>
<rect x="329.60" y="285.10" width="9.80" height="9.20" fill="#6F94CD"/>
<rect x="179.50" y="355.90" width="58.00" height="56.20" fill="#EEEEEE"/>
<line x1="179.50" y1="403.45" x2="237.50" y2="403.45" stroke="#F5F5F5" stroke-width="0.3"/>
<line x1="179.50" y1="390.55" x2="237.50" y2="390.55" stroke="#F5F5F5" stroke-width="0.3"/>
<line x1="179.50" y1="377.65" x2="237.50" y2="377.65" stroke="#F5F5F5" stroke-width="0.3"/>
<line x1="179.50" y1="364.75" x2="237.50" y2="364.75" stroke="#F5F5F5" stroke-width="0.3"/>
<line x1="179.50" y1="409.90" x2="237.50" y2="409.90" stroke="#FFFFFF" stroke-width="0.55"/>
<line x1="179.50" y1="397.00" x2="237.50" y2="397.00" stroke="#FFFFFF" stroke-width="0.55"/>
<line x1="179.50" y1="384.10" x2="237.50" y2="384.10" stroke="#FFFFFF" stroke-width="0.55"/>
<line x1="179.50" y1="371.20" x2="237.50" y2="371.20" stroke="#FFFFFF" stroke-width="0.55"/>
<line x1="179.50" y1="358.30" x2="237.50" y2="358.30" stroke="#FFFFFF" stroke-width="0.55"/>
<line x1="190.38" y1="355.90" x2="190.38" y2="412.10" stroke="#FFFFFF" stroke-width="0.55"/>
<line x1="208.50" y1="355.90" x2="208.50" y2="412.10" stroke="#FFFFFF" stroke-width="0.55"/>
<line x1="226.62" y1="355.90" x2="226.62" y2="412.10" stroke="#FFFFFF" stroke-width="0.55"/>
<line x1="178.10" y1="409.90" x2="179.50" y2="409.90" stroke="#444" stroke-width="0.5"/>
<line x1="178.10" y1="397.00" x2="179.50" y2="397.00" stroke="#444" stroke-width="0.5"/>
<line x1="178.10" y1="384.10" x2="179.50" y2="384.10" stroke="#444" stroke-width="0.5"/>
<line x1="178.10" y1="371.20" x2="179.50" y2="371.20" stroke="#444" stroke-width="0.5"/>
<line x1="178.10" y1="358.30" x2="179.50" y2="358.30" stroke="#444" stroke-width="0.5"/>
<rect x="182.52" y="358.30" width="15.71" height="4.74" fill="#F2756D"/>
<rect x="182.52" y="362.99" width="15.71" height="28.20" fill="#2BB24C"/>
<rect x="182.52" y="391.14" width="15.71" height="18.81" fill="#6F94CD"/>
<line x1="190.38" y1="412.10" x2="190.38" y2="413.70" stroke="#444" stroke-width="0.5"/>
<rect x="200.64" y="358.30" width="15.71" height="10.91" fill="#2BB24C"/>
<rect x="200.64" y="369.16" width="15.71" height="40.79" fill="#6F94CD"/>
<line x1="208.50" y1="412.10" x2="208.50" y2="413.70" stroke="#444" stroke-width="0.5"/>
<rect x="218.77" y="358.30" width="15.71" height="27.57" fill="#2BB24C"/>
<rect x="218.77" y="385.82" width="15.71" height="24.13" fill="#6F94CD"/>
<line x1="226.62" y1="412.10" x2="226.62" y2="413.70" stroke="#444" stroke-width="0.5"/>
<rect x="264.30" y="355.90" width="58.10" height="56.10" fill="#EEEEEE"/>
<line x1="264.30" y1="403.45" x2="322.40" y2="403.45" stroke="#F5F5F5" stroke-width="0.3"/>
<line x1="264.30" y1="390.55" x2="322.40" y2="390.55" stroke="#F5F5F5" stroke-width="0.3"/>
<line x1="264.30" y1="377.65" x2="322.40" y2="377.65" stroke="#F5F5F5" stroke-width="0.3"/>
<line x1="264.30" y1="364.75" x2="322.40" y2="364.75" stroke="#F5F5F5" stroke-width="0.3"/>
<line x1="264.30" y1="409.90" x2="322.40" y2="409.90" stroke="#FFFFFF" stroke-width="0.55"/>
<line x1="264.30" y1="397.00" x2="322.40" y2="397.00" stroke="#FFFFFF" stroke-width="0.55"/>
<line x1="264.30" y1="384.10" x2="322.40" y2="384.10" stroke="#FFFFFF" stroke-width="0.55"/>
<line x1="264.30" y1="371.20" x2="322.40" y2="371.20" stroke="#FFFFFF" stroke-width="0.55"/>
<line x1="264.30" y1="358.30" x2="322.40" y2="358.30" stroke="#FFFFFF" stroke-width="0.55"/>
<line x1="275.19" y1="355.90" x2="275.19" y2="412.00" stroke="#FFFFFF" stroke-width="0.55"/>
<line x1="293.35" y1="355.90" x2="293.35" y2="412.00" stroke="#FFFFFF" stroke-width="0.55"/>
<line x1="311.51" y1="355.90" x2="311.51" y2="412.00" stroke="#FFFFFF" stroke-width="0.55"/>
<line x1="262.90" y1="409.90" x2="264.30" y2="409.90" stroke="#444" stroke-width="0.5"/>
<line x1="262.90" y1="397.00" x2="264.30" y2="397.00" stroke="#444" stroke-width="0.5"/>
<line x1="262.90" y1="384.10" x2="264.30" y2="384.10" stroke="#444" stroke-width="0.5"/>
<line x1="262.90" y1="371.20" x2="264.30" y2="371.20" stroke="#444" stroke-width="0.5"/>
<line x1="262.90" y1="358.30" x2="264.30" y2="358.30" stroke="#444" stroke-width="0.5"/>
<rect x="267.32" y="358.30" width="15.74" height="4.74" fill="#F2756D"/>
<rect x="267.32" y="362.99" width="15.74" height="42.27" fill="#2BB24C"/>
<rect x="267.32" y="405.21" width="15.74" height="4.74" fill="#6F94CD"/>
<line x1="275.19" y1="412.00" x2="275.19" y2="413.60" stroke="#444" stroke-width="0.5"/>
<rect x="285.48" y="358.30" width="15.74" height="2.77" fill="#F2756D"/>
<rect x="285.48" y="361.02" width="15.74" height="46.22" fill="#2BB24C"/>
<rect x="285.48" y="407.18" width="15.74" height="2.77" fill="#6F94CD"/>
<line x1="293.35" y1="412.00" x2="293.35" y2="413.60" stroke="#444" stroke-width="0.5"/>
<rect x="303.64" y="358.30" width="15.74" height="31.01" fill="#2BB24C"/>
<rect x="303.64" y="389.26" width="15.74" height="20.69" fill="#6F94CD"/>
<line x1="311.51" y1="412.00" x2="311.51" y2="413.60" stroke="#444" stroke-width="0.5"/>
<rect x="331.50" y="374.00" width="10.30" height="10.10" fill="#F2F2F2"/>
<rect x="331.90" y="374.40" width="9.50" height="9.30" fill="#F2756D"/>
<rect x="331.50" y="384.45" width="10.30" height="10.10" fill="#F2F2F2"/>
<rect x="331.90" y="384.85" width="9.50" height="9.30" fill="#2BB24C"/>
<rect x="331.50" y="394.90" width="10.30" height="10.10" fill="#F2F2F2"/>
<rect x="331.90" y="395.30" width="9.50" height="9.30" fill="#6F94CD"/>
<line x1="55.70" y1="472.60" x2="55.70" y2="612.30" stroke="#4f4f4f" stroke-width="0.5" stroke-dasharray="0.6 0.8"/>
<line x1="32.30" y1="472.60" x2="32.30" y2="612.75" stroke="#4c4c4c" stroke-width="0.9"/>
<line x1="31.85" y1="612.30" x2="85.60" y2="612.30" stroke="#4c4c4c" stroke-width="0.9"/>
<line x1="30.80" y1="478.10" x2="32.30" y2="478.10" stroke="#555" stroke-width="0.5"/>
<circle cx="34.60" cy="478.10" r="1.05" fill="#EE2F2F"/>
<line x1="30.80" y1="486.73" x2="32.30" y2="486.73" stroke="#555" stroke-width="0.5"/>
<circle cx="51.30" cy="486.73" r="1.05" fill="#F47878"/>
<line x1="30.80" y1="495.36" x2="32.30" y2="495.36" stroke="#555" stroke-width="0.5"/>
<circle cx="68.70" cy="495.36" r="1.05" fill="#707070"/>
<line x1="30.80" y1="503.99" x2="32.30" y2="503.99" stroke="#555" stroke-width="0.5"/>
<circle cx="73.00" cy="503.99" r="1.05" fill="#707070"/>
<line x1="30.80" y1="512.62" x2="32.30" y2="512.62" stroke="#555" stroke-width="0.5"/>
<circle cx="73.00" cy="512.62" r="1.05" fill="#707070"/>
<line x1="30.80" y1="521.25" x2="32.30" y2="521.25" stroke="#555" stroke-width="0.5"/>
<circle cx="83.00" cy="521.25" r="1.05" fill="#707070"/>
<line x1="30.80" y1="529.88" x2="32.30" y2="529.88" stroke="#555" stroke-width="0.5"/>
<circle cx="83.00" cy="529.88" r="1.05" fill="#707070"/>
<line x1="30.80" y1="538.51" x2="32.30" y2="538.51" stroke="#555" stroke-width="0.5"/>
<circle cx="83.00" cy="538.51" r="1.05" fill="#707070"/>
<line x1="30.80" y1="547.14" x2="32.30" y2="547.14" stroke="#555" stroke-width="0.5"/>
<circle cx="83.00" cy="547.14" r="1.05" fill="#707070"/>
<line x1="30.80" y1="555.77" x2="32.30" y2="555.77" stroke="#555" stroke-width="0.5"/>
<circle cx="83.00" cy="555.77" r="1.05" fill="#707070"/>
<line x1="30.80" y1="564.40" x2="32.30" y2="564.40" stroke="#555" stroke-width="0.5"/>
<circle cx="83.00" cy="564.40" r="1.05" fill="#707070"/>
<line x1="30.80" y1="573.03" x2="32.30" y2="573.03" stroke="#555" stroke-width="0.5"/>
<circle cx="83.00" cy="573.03" r="1.05" fill="#707070"/>
<line x1="30.80" y1="581.66" x2="32.30" y2="581.66" stroke="#555" stroke-width="0.5"/>
<circle cx="83.00" cy="581.66" r="1.05" fill="#707070"/>
<line x1="30.80" y1="590.29" x2="32.30" y2="590.29" stroke="#555" stroke-width="0.5"/>
<circle cx="83.00" cy="590.29" r="1.05" fill="#707070"/>
<line x1="30.80" y1="598.92" x2="32.30" y2="598.92" stroke="#555" stroke-width="0.5"/>
<circle cx="83.00" cy="598.92" r="1.05" fill="#707070"/>
<line x1="30.80" y1="607.55" x2="32.30" y2="607.55" stroke="#555" stroke-width="0.5"/>
<circle cx="83.00" cy="607.55" r="1.05" fill="#707070"/>
<line x1="39.40" y1="612.30" x2="39.40" y2="613.60" stroke="#444" stroke-width="0.5"/>
<line x1="61.20" y1="612.30" x2="61.20" y2="613.60" stroke="#444" stroke-width="0.5"/>
<line x1="83.00" y1="612.30" x2="83.00" y2="613.60" stroke="#444" stroke-width="0.5"/>
<line x1="123.20" y1="472.60" x2="123.20" y2="612.30" stroke="#4f4f4f" stroke-width="0.5" stroke-dasharray="0.6 0.8"/>
<line x1="118.80" y1="472.60" x2="118.80" y2="612.75" stroke="#4c4c4c" stroke-width="0.9"/>
<line x1="118.35" y1="612.30" x2="172.30" y2="612.30" stroke="#4c4c4c" stroke-width="0.9"/>
<line x1="117.30" y1="478.10" x2="118.80" y2="478.10" stroke="#555" stroke-width="0.5"/>
<circle cx="121.00" cy="478.10" r="1.05" fill="#F47878"/>
<line x1="117.30" y1="486.73" x2="118.80" y2="486.73" stroke="#555" stroke-width="0.5"/>
<circle cx="132.30" cy="486.73" r="1.05" fill="#707070"/>
<line x1="117.30" y1="495.36" x2="118.80" y2="495.36" stroke="#555" stroke-width="0.5"/>
<circle cx="138.00" cy="495.36" r="1.05" fill="#707070"/>
<line x1="117.30" y1="503.99" x2="118.80" y2="503.99" stroke="#555" stroke-width="0.5"/>
<circle cx="138.00" cy="503.99" r="1.05" fill="#707070"/>
<line x1="117.30" y1="512.62" x2="118.80" y2="512.62" stroke="#555" stroke-width="0.5"/>
<circle cx="142.10" cy="512.62" r="1.05" fill="#707070"/>
<line x1="117.30" y1="521.25" x2="118.80" y2="521.25" stroke="#555" stroke-width="0.5"/>
<circle cx="148.30" cy="521.25" r="1.05" fill="#707070"/>
<line x1="117.30" y1="529.88" x2="118.80" y2="529.88" stroke="#555" stroke-width="0.5"/>
<circle cx="150.40" cy="529.88" r="1.05" fill="#707070"/>
<line x1="117.30" y1="538.51" x2="118.80" y2="538.51" stroke="#555" stroke-width="0.5"/>
<circle cx="158.80" cy="538.51" r="1.05" fill="#707070"/>
<line x1="117.30" y1="547.14" x2="118.80" y2="547.14" stroke="#555" stroke-width="0.5"/>
<circle cx="170.00" cy="547.14" r="1.05" fill="#707070"/>
<line x1="117.30" y1="555.77" x2="118.80" y2="555.77" stroke="#555" stroke-width="0.5"/>
<circle cx="170.00" cy="555.77" r="1.05" fill="#707070"/>
<line x1="117.30" y1="564.40" x2="118.80" y2="564.40" stroke="#555" stroke-width="0.5"/>
<circle cx="170.00" cy="564.40" r="1.05" fill="#707070"/>
<line x1="117.30" y1="573.03" x2="118.80" y2="573.03" stroke="#555" stroke-width="0.5"/>
<circle cx="170.00" cy="573.03" r="1.05" fill="#707070"/>
<line x1="117.30" y1="581.66" x2="118.80" y2="581.66" stroke="#555" stroke-width="0.5"/>
<circle cx="170.00" cy="581.66" r="1.05" fill="#707070"/>
<line x1="117.30" y1="590.29" x2="118.80" y2="590.29" stroke="#555" stroke-width="0.5"/>
<circle cx="170.00" cy="590.29" r="1.05" fill="#707070"/>
<line x1="117.30" y1="598.92" x2="118.80" y2="598.92" stroke="#555" stroke-width="0.5"/>
<circle cx="170.00" cy="598.92" r="1.05" fill="#707070"/>
<line x1="117.30" y1="607.55" x2="118.80" y2="607.55" stroke="#555" stroke-width="0.5"/>
<circle cx="170.00" cy="607.55" r="1.05" fill="#707070"/>
<line x1="133.80" y1="612.30" x2="133.80" y2="613.60" stroke="#444" stroke-width="0.5"/>
<line x1="151.10" y1="612.30" x2="151.10" y2="613.60" stroke="#444" stroke-width="0.5"/>
<line x1="170.00" y1="612.30" x2="170.00" y2="613.60" stroke="#444" stroke-width="0.5"/>
<line x1="206.80" y1="472.60" x2="206.80" y2="612.30" stroke="#4f4f4f" stroke-width="0.5" stroke-dasharray="0.6 0.8"/>
<line x1="205.20" y1="472.60" x2="205.20" y2="612.75" stroke="#4c4c4c" stroke-width="0.9"/>
<line x1="204.75" y1="612.30" x2="258.50" y2="612.30" stroke="#4c4c4c" stroke-width="0.9"/>
<line x1="203.70" y1="478.10" x2="205.20" y2="478.10" stroke="#555" stroke-width="0.5"/>
<circle cx="214.80" cy="478.10" r="1.05" fill="#707070"/>
<line x1="203.70" y1="486.73" x2="205.20" y2="486.73" stroke="#555" stroke-width="0.5"/>
<circle cx="216.50" cy="486.73" r="1.05" fill="#707070"/>
<line x1="203.70" y1="495.36" x2="205.20" y2="495.36" stroke="#555" stroke-width="0.5"/>
<circle cx="222.70" cy="495.36" r="1.05" fill="#707070"/>
<line x1="203.70" y1="503.99" x2="205.20" y2="503.99" stroke="#555" stroke-width="0.5"/>
<circle cx="225.60" cy="503.99" r="1.05" fill="#707070"/>
<line x1="203.70" y1="512.62" x2="205.20" y2="512.62" stroke="#555" stroke-width="0.5"/>
<circle cx="236.30" cy="512.62" r="1.05" fill="#707070"/>
<line x1="203.70" y1="521.25" x2="205.20" y2="521.25" stroke="#555" stroke-width="0.5"/>
<circle cx="239.40" cy="521.25" r="1.05" fill="#707070"/>
<line x1="203.70" y1="529.88" x2="205.20" y2="529.88" stroke="#555" stroke-width="0.5"/>
<circle cx="243.10" cy="529.88" r="1.05" fill="#707070"/>
<line x1="203.70" y1="538.51" x2="205.20" y2="538.51" stroke="#555" stroke-width="0.5"/>
<circle cx="245.80" cy="538.51" r="1.05" fill="#707070"/>
<line x1="203.70" y1="547.14" x2="205.20" y2="547.14" stroke="#555" stroke-width="0.5"/>
<circle cx="246.50" cy="547.14" r="1.05" fill="#707070"/>
<line x1="203.70" y1="555.77" x2="205.20" y2="555.77" stroke="#555" stroke-width="0.5"/>
<circle cx="248.50" cy="555.77" r="1.05" fill="#707070"/>
<line x1="203.70" y1="564.40" x2="205.20" y2="564.40" stroke="#555" stroke-width="0.5"/>
<circle cx="250.40" cy="564.40" r="1.05" fill="#707070"/>
<line x1="203.70" y1="573.03" x2="205.20" y2="573.03" stroke="#555" stroke-width="0.5"/>
<circle cx="250.40" cy="573.03" r="1.05" fill="#707070"/>
<line x1="203.70" y1="581.66" x2="205.20" y2="581.66" stroke="#555" stroke-width="0.5"/>
<circle cx="256.20" cy="581.66" r="1.05" fill="#707070"/>
<line x1="203.70" y1="590.29" x2="205.20" y2="590.29" stroke="#555" stroke-width="0.5"/>
<circle cx="256.20" cy="590.29" r="1.05" fill="#707070"/>
<line x1="203.70" y1="598.92" x2="205.20" y2="598.92" stroke="#555" stroke-width="0.5"/>
<circle cx="256.20" cy="598.92" r="1.05" fill="#707070"/>
<line x1="203.70" y1="607.55" x2="205.20" y2="607.55" stroke="#555" stroke-width="0.5"/>
<circle cx="256.20" cy="607.55" r="1.05" fill="#707070"/>
<line x1="218.70" y1="612.30" x2="218.70" y2="613.60" stroke="#444" stroke-width="0.5"/>
<line x1="236.50" y1="612.30" x2="236.50" y2="613.60" stroke="#444" stroke-width="0.5"/>
<line x1="256.40" y1="612.30" x2="256.40" y2="613.60" stroke="#444" stroke-width="0.5"/>
<line x1="293.40" y1="472.60" x2="293.40" y2="612.30" stroke="#4f4f4f" stroke-width="0.5" stroke-dasharray="0.6 0.8"/>
<line x1="291.00" y1="472.60" x2="291.00" y2="612.75" stroke="#4c4c4c" stroke-width="0.9"/>
<line x1="290.55" y1="612.30" x2="345.00" y2="612.30" stroke="#4c4c4c" stroke-width="0.9"/>
<line x1="289.50" y1="478.70" x2="291.00" y2="478.70" stroke="#555" stroke-width="0.5"/>
<circle cx="328.30" cy="478.70" r="1.05" fill="#707070"/>
<line x1="289.50" y1="488.56" x2="291.00" y2="488.56" stroke="#555" stroke-width="0.5"/>
<circle cx="328.80" cy="488.56" r="1.05" fill="#707070"/>
<line x1="289.50" y1="498.43" x2="291.00" y2="498.43" stroke="#555" stroke-width="0.5"/>
<circle cx="332.90" cy="498.43" r="1.05" fill="#707070"/>
<line x1="289.50" y1="508.29" x2="291.00" y2="508.29" stroke="#555" stroke-width="0.5"/>
<circle cx="332.90" cy="508.29" r="1.05" fill="#707070"/>
<line x1="289.50" y1="518.16" x2="291.00" y2="518.16" stroke="#555" stroke-width="0.5"/>
<circle cx="332.90" cy="518.16" r="1.05" fill="#707070"/>
<line x1="289.50" y1="528.02" x2="291.00" y2="528.02" stroke="#555" stroke-width="0.5"/>
<circle cx="335.80" cy="528.02" r="1.05" fill="#707070"/>
<line x1="289.50" y1="537.89" x2="291.00" y2="537.89" stroke="#555" stroke-width="0.5"/>
<circle cx="337.10" cy="537.89" r="1.05" fill="#707070"/>
<line x1="289.50" y1="547.75" x2="291.00" y2="547.75" stroke="#555" stroke-width="0.5"/>
<circle cx="342.50" cy="547.75" r="1.05" fill="#707070"/>
<line x1="289.50" y1="557.62" x2="291.00" y2="557.62" stroke="#555" stroke-width="0.5"/>
<circle cx="342.50" cy="557.62" r="1.05" fill="#707070"/>
<line x1="289.50" y1="567.49" x2="291.00" y2="567.49" stroke="#555" stroke-width="0.5"/>
<circle cx="342.50" cy="567.49" r="1.05" fill="#707070"/>
<line x1="289.50" y1="577.35" x2="291.00" y2="577.35" stroke="#555" stroke-width="0.5"/>
<circle cx="342.50" cy="577.35" r="1.05" fill="#707070"/>
<line x1="289.50" y1="587.22" x2="291.00" y2="587.22" stroke="#555" stroke-width="0.5"/>
<circle cx="342.50" cy="587.22" r="1.05" fill="#707070"/>
<line x1="289.50" y1="597.08" x2="291.00" y2="597.08" stroke="#555" stroke-width="0.5"/>
<circle cx="342.50" cy="597.08" r="1.05" fill="#707070"/>
<line x1="289.50" y1="606.94" x2="291.00" y2="606.94" stroke="#555" stroke-width="0.5"/>
<circle cx="342.50" cy="606.94" r="1.05" fill="#707070"/>
<line x1="304.60" y1="612.30" x2="304.60" y2="613.60" stroke="#444" stroke-width="0.5"/>
<line x1="322.80" y1="612.30" x2="322.80" y2="613.60" stroke="#444" stroke-width="0.5"/>
<line x1="342.50" y1="612.30" x2="342.50" y2="613.60" stroke="#444" stroke-width="0.5"/>
<line x1="385.20" y1="472.60" x2="385.20" y2="612.30" stroke="#4f4f4f" stroke-width="0.5" stroke-dasharray="0.6 0.8"/>
<line x1="377.90" y1="472.60" x2="377.90" y2="612.75" stroke="#4c4c4c" stroke-width="0.9"/>
<line x1="377.45" y1="612.30" x2="431.00" y2="612.30" stroke="#4c4c4c" stroke-width="0.9"/>
<line x1="376.40" y1="478.10" x2="377.90" y2="478.10" stroke="#555" stroke-width="0.5"/>
<circle cx="379.80" cy="478.10" r="1.05" fill="#F47878"/>
<line x1="376.40" y1="486.73" x2="377.90" y2="486.73" stroke="#555" stroke-width="0.5"/>
<circle cx="401.30" cy="486.73" r="1.05" fill="#707070"/>
<line x1="376.40" y1="495.36" x2="377.90" y2="495.36" stroke="#555" stroke-width="0.5"/>
<circle cx="408.50" cy="495.36" r="1.05" fill="#707070"/>
<line x1="376.40" y1="503.99" x2="377.90" y2="503.99" stroke="#555" stroke-width="0.5"/>
<circle cx="409.60" cy="503.99" r="1.05" fill="#707070"/>
<line x1="376.40" y1="512.62" x2="377.90" y2="512.62" stroke="#555" stroke-width="0.5"/>
<circle cx="411.00" cy="512.62" r="1.05" fill="#707070"/>
<line x1="376.40" y1="521.25" x2="377.90" y2="521.25" stroke="#555" stroke-width="0.5"/>
<circle cx="411.50" cy="521.25" r="1.05" fill="#707070"/>
<line x1="376.40" y1="529.88" x2="377.90" y2="529.88" stroke="#555" stroke-width="0.5"/>
<circle cx="419.40" cy="529.88" r="1.05" fill="#707070"/>
<line x1="376.40" y1="538.51" x2="377.90" y2="538.51" stroke="#555" stroke-width="0.5"/>
<circle cx="420.40" cy="538.51" r="1.05" fill="#707070"/>
<line x1="376.40" y1="547.14" x2="377.90" y2="547.14" stroke="#555" stroke-width="0.5"/>
<circle cx="420.40" cy="547.14" r="1.05" fill="#707070"/>
<line x1="376.40" y1="555.77" x2="377.90" y2="555.77" stroke="#555" stroke-width="0.5"/>
<circle cx="422.10" cy="555.77" r="1.05" fill="#707070"/>
<line x1="376.40" y1="564.40" x2="377.90" y2="564.40" stroke="#555" stroke-width="0.5"/>
<circle cx="428.70" cy="564.40" r="1.05" fill="#707070"/>
<line x1="376.40" y1="573.03" x2="377.90" y2="573.03" stroke="#555" stroke-width="0.5"/>
<circle cx="428.70" cy="573.03" r="1.05" fill="#707070"/>
<line x1="376.40" y1="581.66" x2="377.90" y2="581.66" stroke="#555" stroke-width="0.5"/>
<circle cx="428.70" cy="581.66" r="1.05" fill="#707070"/>
<line x1="376.40" y1="590.29" x2="377.90" y2="590.29" stroke="#555" stroke-width="0.5"/>
<circle cx="428.70" cy="590.29" r="1.05" fill="#707070"/>
<line x1="376.40" y1="598.92" x2="377.90" y2="598.92" stroke="#555" stroke-width="0.5"/>
<circle cx="428.70" cy="598.92" r="1.05" fill="#707070"/>
<line x1="376.40" y1="607.55" x2="377.90" y2="607.55" stroke="#555" stroke-width="0.5"/>
<circle cx="428.70" cy="607.55" r="1.05" fill="#707070"/>
<line x1="377.70" y1="612.30" x2="377.70" y2="613.60" stroke="#444" stroke-width="0.5"/>
<line x1="395.20" y1="612.30" x2="395.20" y2="613.60" stroke="#444" stroke-width="0.5"/>
<line x1="412.10" y1="612.30" x2="412.10" y2="613.60" stroke="#444" stroke-width="0.5"/>
<line x1="428.70" y1="612.30" x2="428.70" y2="613.60" stroke="#444" stroke-width="0.5"/>
<line x1="472.40" y1="472.60" x2="472.40" y2="612.30" stroke="#4f4f4f" stroke-width="0.5" stroke-dasharray="0.6 0.8"/>
<line x1="463.80" y1="472.60" x2="463.80" y2="612.75" stroke="#4c4c4c" stroke-width="0.9"/>
<line x1="463.35" y1="612.30" x2="518.00" y2="612.30" stroke="#4c4c4c" stroke-width="0.9"/>
<line x1="462.30" y1="478.10" x2="463.80" y2="478.10" stroke="#555" stroke-width="0.5"/>
<circle cx="466.30" cy="478.10" r="1.05" fill="#F47878"/>
<line x1="462.30" y1="486.73" x2="463.80" y2="486.73" stroke="#555" stroke-width="0.5"/>
<circle cx="498.00" cy="486.73" r="1.05" fill="#707070"/>
<line x1="462.30" y1="495.36" x2="463.80" y2="495.36" stroke="#555" stroke-width="0.5"/>
<circle cx="503.80" cy="495.36" r="1.05" fill="#707070"/>
<line x1="462.30" y1="503.99" x2="463.80" y2="503.99" stroke="#555" stroke-width="0.5"/>
<circle cx="506.20" cy="503.99" r="1.05" fill="#707070"/>
<line x1="462.30" y1="512.62" x2="463.80" y2="512.62" stroke="#555" stroke-width="0.5"/>
<circle cx="506.20" cy="512.62" r="1.05" fill="#707070"/>
<line x1="462.30" y1="521.25" x2="463.80" y2="521.25" stroke="#555" stroke-width="0.5"/>
<circle cx="508.80" cy="521.25" r="1.05" fill="#707070"/>
<line x1="462.30" y1="529.88" x2="463.80" y2="529.88" stroke="#555" stroke-width="0.5"/>
<circle cx="515.20" cy="529.88" r="1.05" fill="#707070"/>
<line x1="462.30" y1="538.51" x2="463.80" y2="538.51" stroke="#555" stroke-width="0.5"/>
<circle cx="515.20" cy="538.51" r="1.05" fill="#707070"/>
<line x1="462.30" y1="547.14" x2="463.80" y2="547.14" stroke="#555" stroke-width="0.5"/>
<circle cx="515.20" cy="547.14" r="1.05" fill="#707070"/>
<line x1="462.30" y1="555.77" x2="463.80" y2="555.77" stroke="#555" stroke-width="0.5"/>
<circle cx="515.20" cy="555.77" r="1.05" fill="#707070"/>
<line x1="462.30" y1="564.40" x2="463.80" y2="564.40" stroke="#555" stroke-width="0.5"/>
<circle cx="515.20" cy="564.40" r="1.05" fill="#707070"/>
<line x1="462.30" y1="573.03" x2="463.80" y2="573.03" stroke="#555" stroke-width="0.5"/>
<circle cx="515.20" cy="573.03" r="1.05" fill="#707070"/>
<line x1="462.30" y1="581.66" x2="463.80" y2="581.66" stroke="#555" stroke-width="0.5"/>
<circle cx="515.20" cy="581.66" r="1.05" fill="#707070"/>
<line x1="462.30" y1="590.29" x2="463.80" y2="590.29" stroke="#555" stroke-width="0.5"/>
<circle cx="515.20" cy="590.29" r="1.05" fill="#707070"/>
<line x1="462.30" y1="598.92" x2="463.80" y2="598.92" stroke="#555" stroke-width="0.5"/>
<circle cx="515.20" cy="598.92" r="1.05" fill="#707070"/>
<line x1="462.30" y1="607.55" x2="463.80" y2="607.55" stroke="#555" stroke-width="0.5"/>
<circle cx="515.20" cy="607.55" r="1.05" fill="#707070"/>
<line x1="465.30" y1="612.30" x2="465.30" y2="613.60" stroke="#444" stroke-width="0.5"/>
<line x1="482.50" y1="612.30" x2="482.50" y2="613.60" stroke="#444" stroke-width="0.5"/>
<line x1="498.80" y1="612.30" x2="498.80" y2="613.60" stroke="#444" stroke-width="0.5"/>
<line x1="514.60" y1="612.30" x2="514.60" y2="613.60" stroke="#444" stroke-width="0.5"/>
</g>
<g id="labels">
<text x="9.50" y="9.05" font-size="10.2" text-anchor="start" fill="#000" stroke="#000" stroke-width="0.306" font-weight="bold">A</text>
<text x="23.60" y="11.86" font-size="8.55" text-anchor="start" fill="#111" stroke="#111" stroke-width="0.257">LUAD</text>
<text x="31.40" y="80.72" font-size="4.7" text-anchor="end" fill="#262626" stroke="#262626" stroke-width="0.141">0</text>
<text x="31.40" y="66.90" font-size="4.7" text-anchor="end" fill="#262626" stroke="#262626" stroke-width="0.141">25</text>
<text x="31.40" y="53.08" font-size="4.7" text-anchor="end" fill="#262626" stroke="#262626" stroke-width="0.141">50</text>
<text x="31.40" y="39.26" font-size="4.7" text-anchor="end" fill="#262626" stroke="#262626" stroke-width="0.141">75</text>
<text x="31.40" y="25.45" font-size="4.7" text-anchor="end" fill="#262626" stroke="#262626" stroke-width="0.141">100</text>
<text transform="translate(46.06,84.70) rotate(-90)" font-size="5.4" text-anchor="end" fill="#262626" stroke="#262626" stroke-width="0.162">AD.Cold</text>
<text transform="translate(63.43,84.70) rotate(-90)" font-size="5.4" text-anchor="end" fill="#262626" stroke="#262626" stroke-width="0.162">AD.Myeloid</text>
<text transform="translate(80.81,84.70) rotate(-90)" font-size="5.4" text-anchor="end" fill="#262626" stroke="#262626" stroke-width="0.162">AD.CD8</text>
<text x="62.00" y="18.86" font-size="6.3" text-anchor="middle" fill="#1a1a1a" stroke="#1a1a1a" stroke-width="0.189">EGFR</text>
<text transform="translate(20.66,51.40) rotate(-90)" font-size="5.2" text-anchor="middle" fill="#1a1a1a" stroke="#1a1a1a" stroke-width="0.156">Frequency(%)</text>
<text x="96.70" y="18.86" font-size="5.2" text-anchor="start" fill="#1a1a1a" stroke="#1a1a1a" stroke-width="0.156">Class</text>
<text x="107.70" y="27.63" font-size="4.56" text-anchor="start" fill="#1a1a1a" stroke="#1a1a1a" stroke-width="0.137">–</text>
<text x="107.70" y="36.71" font-size="4.56" text-anchor="start" fill="#1a1a1a" stroke="#1a1a1a" stroke-width="0.137">others</text>
<text x="107.70" y="45.79" font-size="4.56" text-anchor="start" fill="#1a1a1a" stroke="#1a1a1a" stroke-width="0.137">p.Glu746_Ala750del</text>
<text x="107.70" y="54.87" font-size="4.56" text-anchor="start" fill="#1a1a1a" stroke="#1a1a1a" stroke-width="0.137">p.Glu746_Thr751delinsAla</text>
<text x="107.70" y="63.95" font-size="4.56" text-anchor="start" fill="#1a1a1a" stroke="#1a1a1a" stroke-width="0.137">p.Leu747_Ser752del</text>
<text x="107.70" y="73.03" font-size="4.56" text-anchor="start" fill="#1a1a1a" stroke="#1a1a1a" stroke-width="0.137">p.Leu747_Thr751del</text>
<text x="107.70" y="82.11" font-size="4.56" text-anchor="start" fill="#1a1a1a" stroke="#1a1a1a" stroke-width="0.137">p.Leu858Arg</text>
<text x="107.70" y="91.19" font-size="4.56" text-anchor="start" fill="#1a1a1a" stroke="#1a1a1a" stroke-width="0.137">p.Leu861Gln</text>
<text x="179.20" y="79.99" font-size="5.05" text-anchor="end" fill="#262626" stroke="#262626" stroke-width="0.151">0</text>
<text x="179.20" y="66.12" font-size="5.05" text-anchor="end" fill="#262626" stroke="#262626" stroke-width="0.151">25</text>
<text x="179.20" y="52.26" font-size="5.05" text-anchor="end" fill="#262626" stroke="#262626" stroke-width="0.151">50</text>
<text x="179.20" y="38.39" font-size="5.05" text-anchor="end" fill="#262626" stroke="#262626" stroke-width="0.151">75</text>
<text x="179.20" y="24.53" font-size="5.05" text-anchor="end" fill="#262626" stroke="#262626" stroke-width="0.151">100</text>
<text transform="translate(194.02,83.50) rotate(-90)" font-size="5.4" text-anchor="end" fill="#262626" stroke="#262626" stroke-width="0.162">AD.Cold</text>
<text transform="translate(211.83,83.50) rotate(-90)" font-size="5.4" text-anchor="end" fill="#262626" stroke="#262626" stroke-width="0.162">AD.Myeloid</text>
<text transform="translate(229.65,83.50) rotate(-90)" font-size="5.4" text-anchor="end" fill="#262626" stroke="#262626" stroke-width="0.162">AD.CD8</text>
<text x="209.90" y="18.06" font-size="6.3" text-anchor="middle" fill="#1a1a1a" stroke="#1a1a1a" stroke-width="0.189">TP53</text>
<text x="263.50" y="80.60" font-size="5.05" text-anchor="end" fill="#262626" stroke="#262626" stroke-width="0.151">0</text>
<text x="263.50" y="66.83" font-size="5.05" text-anchor="end" fill="#262626" stroke="#262626" stroke-width="0.151">25</text>
<text x="263.50" y="53.06" font-size="5.05" text-anchor="end" fill="#262626" stroke="#262626" stroke-width="0.151">50</text>
<text x="263.50" y="39.29" font-size="5.05" text-anchor="end" fill="#262626" stroke="#262626" stroke-width="0.151">75</text>
<text x="263.50" y="25.51" font-size="5.05" text-anchor="end" fill="#262626" stroke="#262626" stroke-width="0.151">100</text>
<text transform="translate(278.93,84.10) rotate(-90)" font-size="5.4" text-anchor="end" fill="#262626" stroke="#262626" stroke-width="0.162">AD.Cold</text>
<text transform="translate(296.58,84.10) rotate(-90)" font-size="5.4" text-anchor="end" fill="#262626" stroke="#262626" stroke-width="0.162">AD.Myeloid</text>
<text transform="translate(314.24,84.10) rotate(-90)" font-size="5.4" text-anchor="end" fill="#262626" stroke="#262626" stroke-width="0.162">AD.CD8</text>
<text x="294.65" y="18.46" font-size="6.3" text-anchor="middle" fill="#1a1a1a" stroke="#1a1a1a" stroke-width="0.189">KRAS</text>
<text x="344.60" y="80.79" font-size="5.05" text-anchor="end" fill="#262626" stroke="#262626" stroke-width="0.151">0</text>
<text x="344.60" y="66.98" font-size="5.05" text-anchor="end" fill="#262626" stroke="#262626" stroke-width="0.151">25</text>
<text x="344.60" y="53.16" font-size="5.05" text-anchor="end" fill="#262626" stroke="#262626" stroke-width="0.151">50</text>
<text x="344.60" y="39.34" font-size="5.05" text-anchor="end" fill="#262626" stroke="#262626" stroke-width="0.151">75</text>
<text x="344.60" y="25.52" font-size="5.05" text-anchor="end" fill="#262626" stroke="#262626" stroke-width="0.151">100</text>
<text transform="translate(359.40,84.30) rotate(-90)" font-size="5.4" text-anchor="end" fill="#262626" stroke="#262626" stroke-width="0.162">AD.Cold</text>
<text transform="translate(377.18,84.30) rotate(-90)" font-size="5.4" text-anchor="end" fill="#262626" stroke="#262626" stroke-width="0.162">AD.Myeloid</text>
<text transform="translate(394.96,84.30) rotate(-90)" font-size="5.4" text-anchor="end" fill="#262626" stroke="#262626" stroke-width="0.162">AD.CD8</text>
<text x="375.25" y="18.46" font-size="6.3" text-anchor="middle" fill="#1a1a1a" stroke="#1a1a1a" stroke-width="0.189">STK11</text>
<text x="419.50" y="81.26" font-size="5.05" text-anchor="end" fill="#262626" stroke="#262626" stroke-width="0.151">0</text>
<text x="419.50" y="67.29" font-size="5.05" text-anchor="end" fill="#262626" stroke="#262626" stroke-width="0.151">25</text>
<text x="419.50" y="53.31" font-size="5.05" text-anchor="end" fill="#262626" stroke="#262626" stroke-width="0.151">50</text>
<text x="419.50" y="39.33" font-size="5.05" text-anchor="end" fill="#262626" stroke="#262626" stroke-width="0.151">75</text>
<text x="419.50" y="25.35" font-size="5.05" text-anchor="end" fill="#262626" stroke="#262626" stroke-width="0.151">100</text>
<text transform="translate(434.55,84.80) rotate(-90)" font-size="5.4" text-anchor="end" fill="#262626" stroke="#262626" stroke-width="0.162">AD.Cold</text>
<text transform="translate(452.23,84.80) rotate(-90)" font-size="5.4" text-anchor="end" fill="#262626" stroke="#262626" stroke-width="0.162">AD.Myeloid</text>
<text transform="translate(469.92,84.80) rotate(-90)" font-size="5.4" text-anchor="end" fill="#262626" stroke="#262626" stroke-width="0.162">AD.CD8</text>
<text x="450.30" y="18.16" font-size="6.3" text-anchor="middle" fill="#1a1a1a" stroke="#1a1a1a" stroke-width="0.189">RB1</text>
<text x="485.70" y="44.73" font-size="5.4" text-anchor="start" fill="#1a1a1a" stroke="#1a1a1a" stroke-width="0.162">Class</text>
<text x="499.60" y="54.28" font-size="5.4" text-anchor="start" fill="#1a1a1a" stroke="#1a1a1a" stroke-width="0.162">–</text>
<text x="499.60" y="63.38" font-size="5.4" text-anchor="start" fill="#1a1a1a" stroke="#1a1a1a" stroke-width="0.162">+</text>
<text x="8.60" y="120.35" font-size="10.2" text-anchor="start" fill="#000" stroke="#000" stroke-width="0.306" font-weight="bold">B</text>
<text x="22.80" y="121.86" font-size="8.55" text-anchor="start" fill="#111" stroke="#111" stroke-width="0.257">LUSQ</text>
<text x="28.90" y="187.03" font-size="5.05" text-anchor="end" fill="#262626" stroke="#262626" stroke-width="0.151">0</text>
<text x="28.90" y="173.62" font-size="5.05" text-anchor="end" fill="#262626" stroke="#262626" stroke-width="0.151">25</text>
<text x="28.90" y="160.21" font-size="5.05" text-anchor="end" fill="#262626" stroke="#262626" stroke-width="0.151">50</text>
<text x="28.90" y="146.80" font-size="5.05" text-anchor="end" fill="#262626" stroke="#262626" stroke-width="0.151">75</text>
<text x="28.90" y="133.39" font-size="5.05" text-anchor="end" fill="#262626" stroke="#262626" stroke-width="0.151">100</text>
<text transform="translate(43.90,190.80) rotate(-90)" font-size="5.4" text-anchor="end" fill="#262626" stroke="#262626" stroke-width="0.162">SQ.Cold</text>
<text transform="translate(61.18,190.80) rotate(-90)" font-size="5.4" text-anchor="end" fill="#262626" stroke="#262626" stroke-width="0.162">SQ.Myeloid</text>
<text transform="translate(78.46,190.80) rotate(-90)" font-size="5.4" text-anchor="end" fill="#262626" stroke="#262626" stroke-width="0.162">SQ.CD8</text>
<text x="58.90" y="126.48" font-size="6.1" text-anchor="middle" fill="#1a1a1a" stroke="#1a1a1a" stroke-width="0.183">EGFR</text>
<text transform="translate(18.46,158.40) rotate(-90)" font-size="5.2" text-anchor="middle" fill="#1a1a1a" stroke="#1a1a1a" stroke-width="0.156">Frequency(%)</text>
<text x="98.00" y="143.90" font-size="5.3" text-anchor="start" fill="#1a1a1a" stroke="#1a1a1a" stroke-width="0.159">Class</text>
<text x="111.30" y="153.03" font-size="5.4" text-anchor="start" fill="#1a1a1a" stroke="#1a1a1a" stroke-width="0.162">–</text>
<text x="111.30" y="162.63" font-size="5.4" text-anchor="start" fill="#1a1a1a" stroke="#1a1a1a" stroke-width="0.162">others</text>
<text x="111.30" y="172.23" font-size="5.4" text-anchor="start" fill="#1a1a1a" stroke="#1a1a1a" stroke-width="0.162">p.Leu858Arg</text>
<text x="177.70" y="186.82" font-size="5.05" text-anchor="end" fill="#262626" stroke="#262626" stroke-width="0.151">0</text>
<text x="177.70" y="173.61" font-size="5.05" text-anchor="end" fill="#262626" stroke="#262626" stroke-width="0.151">25</text>
<text x="177.70" y="160.41" font-size="5.05" text-anchor="end" fill="#262626" stroke="#262626" stroke-width="0.151">50</text>
<text x="177.70" y="147.20" font-size="5.05" text-anchor="end" fill="#262626" stroke="#262626" stroke-width="0.151">75</text>
<text x="177.70" y="134.00" font-size="5.05" text-anchor="end" fill="#262626" stroke="#262626" stroke-width="0.151">100</text>
<text transform="translate(191.50,190.20) rotate(-90)" font-size="5.4" text-anchor="end" fill="#262626" stroke="#262626" stroke-width="0.162">SQ.Cold</text>
<text transform="translate(209.43,190.20) rotate(-90)" font-size="5.4" text-anchor="end" fill="#262626" stroke="#262626" stroke-width="0.162">SQ.Myeloid</text>
<text transform="translate(227.37,190.20) rotate(-90)" font-size="5.4" text-anchor="end" fill="#262626" stroke="#262626" stroke-width="0.162">SQ.CD8</text>
<text x="206.80" y="127.26" font-size="6.3" text-anchor="middle" fill="#1a1a1a" stroke="#1a1a1a" stroke-width="0.189">TP53</text>
<text x="262.50" y="187.10" font-size="5.05" text-anchor="end" fill="#262626" stroke="#262626" stroke-width="0.151">0</text>
<text x="262.50" y="173.83" font-size="5.05" text-anchor="end" fill="#262626" stroke="#262626" stroke-width="0.151">25</text>
<text x="262.50" y="160.56" font-size="5.05" text-anchor="end" fill="#262626" stroke="#262626" stroke-width="0.151">50</text>
<text x="262.50" y="147.29" font-size="5.05" text-anchor="end" fill="#262626" stroke="#262626" stroke-width="0.151">75</text>
<text x="262.50" y="134.01" font-size="5.05" text-anchor="end" fill="#262626" stroke="#262626" stroke-width="0.151">100</text>
<text transform="translate(277.48,190.50) rotate(-90)" font-size="5.4" text-anchor="end" fill="#262626" stroke="#262626" stroke-width="0.162">SQ.Cold</text>
<text transform="translate(295.38,190.50) rotate(-90)" font-size="5.4" text-anchor="end" fill="#262626" stroke="#262626" stroke-width="0.162">SQ.Myeloid</text>
<text transform="translate(313.29,190.50) rotate(-90)" font-size="5.4" text-anchor="end" fill="#262626" stroke="#262626" stroke-width="0.162">SQ.CD8</text>
<text x="292.60" y="127.46" font-size="6.3" text-anchor="middle" fill="#1a1a1a" stroke="#1a1a1a" stroke-width="0.189">KRAS</text>
<text x="344.20" y="187.10" font-size="5.05" text-anchor="end" fill="#262626" stroke="#262626" stroke-width="0.151">0</text>
<text x="344.20" y="173.83" font-size="5.05" text-anchor="end" fill="#262626" stroke="#262626" stroke-width="0.151">25</text>
<text x="344.20" y="160.56" font-size="5.05" text-anchor="end" fill="#262626" stroke="#262626" stroke-width="0.151">50</text>
<text x="344.20" y="147.29" font-size="5.05" text-anchor="end" fill="#262626" stroke="#262626" stroke-width="0.151">75</text>
<text x="344.20" y="134.01" font-size="5.05" text-anchor="end" fill="#262626" stroke="#262626" stroke-width="0.151">100</text>
<text transform="translate(359.81,190.50) rotate(-90)" font-size="5.4" text-anchor="end" fill="#262626" stroke="#262626" stroke-width="0.162">SQ.Cold</text>
<text transform="translate(377.78,190.50) rotate(-90)" font-size="5.4" text-anchor="end" fill="#262626" stroke="#262626" stroke-width="0.162">SQ.Myeloid</text>
<text transform="translate(395.75,190.50) rotate(-90)" font-size="5.4" text-anchor="end" fill="#262626" stroke="#262626" stroke-width="0.162">SQ.CD8</text>
<text x="374.00" y="127.46" font-size="6.3" text-anchor="middle" fill="#1a1a1a" stroke="#1a1a1a" stroke-width="0.189">STK11</text>
<text x="419.50" y="187.19" font-size="5.05" text-anchor="end" fill="#262626" stroke="#262626" stroke-width="0.151">0</text>
<text x="419.50" y="173.82" font-size="5.05" text-anchor="end" fill="#262626" stroke="#262626" stroke-width="0.151">25</text>
<text x="419.50" y="160.46" font-size="5.05" text-anchor="end" fill="#262626" stroke="#262626" stroke-width="0.151">50</text>
<text x="419.50" y="147.09" font-size="5.05" text-anchor="end" fill="#262626" stroke="#262626" stroke-width="0.151">75</text>
<text x="419.50" y="133.73" font-size="5.05" text-anchor="end" fill="#262626" stroke="#262626" stroke-width="0.151">100</text>
<text transform="translate(434.51,190.60) rotate(-90)" font-size="5.4" text-anchor="end" fill="#262626" stroke="#262626" stroke-width="0.162">SQ.Cold</text>
<text transform="translate(452.48,190.60) rotate(-90)" font-size="5.4" text-anchor="end" fill="#262626" stroke="#262626" stroke-width="0.162">SQ.Myeloid</text>
<text transform="translate(470.45,190.60) rotate(-90)" font-size="5.4" text-anchor="end" fill="#262626" stroke="#262626" stroke-width="0.162">SQ.CD8</text>
<text x="449.40" y="127.46" font-size="6.3" text-anchor="middle" fill="#1a1a1a" stroke="#1a1a1a" stroke-width="0.189">RB1</text>
<text x="488.30" y="149.63" font-size="5.4" text-anchor="start" fill="#1a1a1a" stroke="#1a1a1a" stroke-width="0.162">Class</text>
<text x="502.80" y="159.83" font-size="5.4" text-anchor="start" fill="#1a1a1a" stroke="#1a1a1a" stroke-width="0.162">–</text>
<text x="502.80" y="169.23" font-size="5.4" text-anchor="start" fill="#1a1a1a" stroke="#1a1a1a" stroke-width="0.162">+</text>
<text x="9.00" y="228.05" font-size="10.2" text-anchor="start" fill="#000" stroke="#000" stroke-width="0.306" font-weight="bold">C</text>
<text x="23.00" y="229.46" font-size="8.55" text-anchor="start" fill="#111" stroke="#111" stroke-width="0.257">LUAD</text>
<text x="28.80" y="299.90" font-size="4.85" text-anchor="end" fill="#262626" stroke="#262626" stroke-width="0.145">0</text>
<text x="28.80" y="287.25" font-size="4.85" text-anchor="end" fill="#262626" stroke="#262626" stroke-width="0.145">25</text>
<text x="28.80" y="274.59" font-size="4.85" text-anchor="end" fill="#262626" stroke="#262626" stroke-width="0.145">50</text>
<text x="28.80" y="261.93" font-size="4.85" text-anchor="end" fill="#262626" stroke="#262626" stroke-width="0.145">75</text>
<text x="28.80" y="249.27" font-size="4.85" text-anchor="end" fill="#262626" stroke="#262626" stroke-width="0.145">100</text>
<text x="41.41" y="253.09" font-size="5.2" text-anchor="middle" fill="#141414" stroke="#141414" stroke-width="0.104">13</text>
<text x="41.41" y="298.81" font-size="5.2" text-anchor="middle" fill="#141414" stroke="#141414" stroke-width="0.104">1</text>
<text transform="translate(43.27,303.50) rotate(-90)" font-size="5.2" text-anchor="end" fill="#262626" stroke="#262626" stroke-width="0.156">AD.Cold</text>
<text x="58.25" y="253.09" font-size="5.2" text-anchor="middle" fill="#141414" stroke="#141414" stroke-width="0.104">27</text>
<text x="58.25" y="293.92" font-size="5.2" text-anchor="middle" fill="#141414" stroke="#141414" stroke-width="0.104">4</text>
<text x="58.25" y="299.06" font-size="5.2" text-anchor="middle" fill="#141414" stroke="#141414" stroke-width="0.104">2</text>
<text transform="translate(60.11,303.50) rotate(-90)" font-size="5.2" text-anchor="end" fill="#262626" stroke="#262626" stroke-width="0.156">AD.Myeloid</text>
<text x="75.09" y="253.09" font-size="5.2" text-anchor="middle" fill="#141414" stroke="#141414" stroke-width="0.104">25</text>
<text transform="translate(76.96,303.50) rotate(-90)" font-size="5.2" text-anchor="end" fill="#262626" stroke="#262626" stroke-width="0.156">AD.CD8</text>
<text x="59.00" y="240.10" font-size="6.15" text-anchor="middle" fill="#1a1a1a" stroke="#1a1a1a" stroke-width="0.184">ALK_ROS1_fusion</text>
<text transform="translate(18.66,272.75) rotate(-90)" font-size="5.2" text-anchor="middle" fill="#1a1a1a" stroke="#1a1a1a" stroke-width="0.156">Frequency(%)</text>
<text x="94.50" y="251.86" font-size="5.2" text-anchor="start" fill="#1a1a1a" stroke="#1a1a1a" stroke-width="0.156">Class</text>
<text x="109.30" y="263.46" font-size="5.05" text-anchor="start" fill="#1a1a1a" stroke="#1a1a1a" stroke-width="0.151">–</text>
<text x="109.30" y="274.46" font-size="5.05" text-anchor="start" fill="#1a1a1a" stroke="#1a1a1a" stroke-width="0.151">ALK</text>
<text x="109.30" y="285.46" font-size="5.05" text-anchor="start" fill="#1a1a1a" stroke="#1a1a1a" stroke-width="0.151">ROS1</text>
<text x="10.00" y="340.65" font-size="10.2" text-anchor="start" fill="#000" stroke="#000" stroke-width="0.306" font-weight="bold">D</text>
<text x="22.60" y="342.26" font-size="8.55" text-anchor="start" fill="#111" stroke="#111" stroke-width="0.257">LUSQ</text>
<text x="28.80" y="411.19" font-size="4.85" text-anchor="end" fill="#262626" stroke="#262626" stroke-width="0.145">0</text>
<text x="28.80" y="398.46" font-size="4.85" text-anchor="end" fill="#262626" stroke="#262626" stroke-width="0.145">25</text>
<text x="28.80" y="385.74" font-size="4.85" text-anchor="end" fill="#262626" stroke="#262626" stroke-width="0.145">50</text>
<text x="28.80" y="373.01" font-size="4.85" text-anchor="end" fill="#262626" stroke="#262626" stroke-width="0.145">75</text>
<text x="28.80" y="360.28" font-size="4.85" text-anchor="end" fill="#262626" stroke="#262626" stroke-width="0.145">100</text>
<text x="42.29" y="364.11" font-size="5.2" text-anchor="middle" fill="#141414" stroke="#141414" stroke-width="0.104">10</text>
<text transform="translate(44.15,414.80) rotate(-90)" font-size="5.2" text-anchor="end" fill="#262626" stroke="#262626" stroke-width="0.156">SQ.Cold</text>
<text x="59.60" y="364.11" font-size="5.2" text-anchor="middle" fill="#141414" stroke="#141414" stroke-width="0.104">18</text>
<text transform="translate(61.46,414.80) rotate(-90)" font-size="5.2" text-anchor="end" fill="#262626" stroke="#262626" stroke-width="0.156">SQ.Myeloid</text>
<text x="76.91" y="364.11" font-size="5.2" text-anchor="middle" fill="#141414" stroke="#141414" stroke-width="0.104">16</text>
<text transform="translate(78.77,414.80) rotate(-90)" font-size="5.2" text-anchor="end" fill="#262626" stroke="#262626" stroke-width="0.156">SQ.CD8</text>
<text x="59.00" y="353.00" font-size="6.15" text-anchor="middle" fill="#1a1a1a" stroke="#1a1a1a" stroke-width="0.184">ALK_ROS1_fusion</text>
<text transform="translate(18.66,383.90) rotate(-90)" font-size="5.2" text-anchor="middle" fill="#1a1a1a" stroke="#1a1a1a" stroke-width="0.156">Frequency(%)</text>
<text x="94.50" y="364.86" font-size="5.2" text-anchor="start" fill="#1a1a1a" stroke="#1a1a1a" stroke-width="0.156">Class</text>
<text x="109.30" y="375.86" font-size="5.05" text-anchor="start" fill="#1a1a1a" stroke="#1a1a1a" stroke-width="0.151">–</text>
<text x="109.30" y="386.86" font-size="5.05" text-anchor="start" fill="#1a1a1a" stroke="#1a1a1a" stroke-width="0.151">ALK</text>
<text x="109.30" y="397.86" font-size="5.05" text-anchor="start" fill="#1a1a1a" stroke="#1a1a1a" stroke-width="0.151">ROS1</text>
<text x="131.50" y="228.15" font-size="10.2" text-anchor="start" fill="#000" stroke="#000" stroke-width="0.306" font-weight="bold">E</text>
<text x="143.30" y="228.96" font-size="8.55" text-anchor="start" fill="#111" stroke="#111" stroke-width="0.257">LUAD</text>
<text x="178.40" y="300.39" font-size="4.95" text-anchor="end" fill="#262626" stroke="#262626" stroke-width="0.148">0</text>
<text x="178.40" y="287.51" font-size="4.95" text-anchor="end" fill="#262626" stroke="#262626" stroke-width="0.148">25</text>
<text x="178.40" y="274.62" font-size="4.95" text-anchor="end" fill="#262626" stroke="#262626" stroke-width="0.148">50</text>
<text x="178.40" y="261.74" font-size="4.95" text-anchor="end" fill="#262626" stroke="#262626" stroke-width="0.148">75</text>
<text x="178.40" y="248.85" font-size="4.95" text-anchor="end" fill="#262626" stroke="#262626" stroke-width="0.148">100</text>
<text x="191.55" y="252.79" font-size="5.2" text-anchor="middle" fill="#141414" stroke="#141414" stroke-width="0.104">6</text>
<text x="191.55" y="276.28" font-size="5.2" text-anchor="middle" fill="#141414" stroke="#141414" stroke-width="0.104">7</text>
<text transform="translate(193.41,303.75) rotate(-90)" font-size="5.2" text-anchor="end" fill="#262626" stroke="#262626" stroke-width="0.156">AD.Cold</text>
<text x="209.30" y="251.09" font-size="5.2" text-anchor="middle" fill="#141414" stroke="#141414" stroke-width="0.104">1</text>
<text x="209.30" y="257.45" font-size="5.2" text-anchor="middle" fill="#141414" stroke="#141414" stroke-width="0.104">10</text>
<text x="209.30" y="270.68" font-size="5.2" text-anchor="middle" fill="#141414" stroke="#141414" stroke-width="0.104">20</text>
<text transform="translate(211.16,303.75) rotate(-90)" font-size="5.2" text-anchor="end" fill="#262626" stroke="#262626" stroke-width="0.156">AD.Myeloid</text>
<text x="227.05" y="252.89" font-size="5.2" text-anchor="middle" fill="#141414" stroke="#141414" stroke-width="0.104">15</text>
<text x="227.05" y="284.12" font-size="5.2" text-anchor="middle" fill="#141414" stroke="#141414" stroke-width="0.104">10</text>
<text transform="translate(228.91,303.75) rotate(-90)" font-size="5.2" text-anchor="end" fill="#262626" stroke="#262626" stroke-width="0.156">AD.CD8</text>
<text x="208.50" y="239.16" font-size="6.3" text-anchor="middle" fill="#1a1a1a" stroke="#1a1a1a" stroke-width="0.189">TERT_CNV</text>
<text transform="translate(168.46,272.00) rotate(-90)" font-size="5.2" text-anchor="middle" fill="#1a1a1a" stroke="#1a1a1a" stroke-width="0.156">Frequency(%)</text>
<text x="262.00" y="299.94" font-size="4.95" text-anchor="end" fill="#262626" stroke="#262626" stroke-width="0.148">0</text>
<text x="262.00" y="287.00" font-size="4.95" text-anchor="end" fill="#262626" stroke="#262626" stroke-width="0.148">25</text>
<text x="262.00" y="274.07" font-size="4.95" text-anchor="end" fill="#262626" stroke="#262626" stroke-width="0.148">50</text>
<text x="262.00" y="261.14" font-size="4.95" text-anchor="end" fill="#262626" stroke="#262626" stroke-width="0.148">75</text>
<text x="262.00" y="248.21" font-size="4.95" text-anchor="end" fill="#262626" stroke="#262626" stroke-width="0.148">100</text>
<text x="274.95" y="252.65" font-size="5.2" text-anchor="middle" fill="#141414" stroke="#141414" stroke-width="0.104">13</text>
<text transform="translate(276.81,303.30) rotate(-90)" font-size="5.2" text-anchor="end" fill="#262626" stroke="#262626" stroke-width="0.156">AD.Cold</text>
<text x="292.95" y="249.75" font-size="5.2" text-anchor="middle" fill="#141414" stroke="#141414" stroke-width="0.104">1</text>
<text x="292.95" y="257.52" font-size="5.2" text-anchor="middle" fill="#141414" stroke="#141414" stroke-width="0.104">25</text>
<text x="292.95" y="295.33" font-size="5.2" text-anchor="middle" fill="#141414" stroke="#141414" stroke-width="0.104">5</text>
<text transform="translate(294.81,303.30) rotate(-90)" font-size="5.2" text-anchor="end" fill="#262626" stroke="#262626" stroke-width="0.156">AD.Myeloid</text>
<text x="310.95" y="249.75" font-size="5.2" text-anchor="middle" fill="#141414" stroke="#141414" stroke-width="0.104">1</text>
<text x="310.95" y="257.92" font-size="5.2" text-anchor="middle" fill="#141414" stroke="#141414" stroke-width="0.104">23</text>
<text x="310.95" y="298.21" font-size="5.2" text-anchor="middle" fill="#141414" stroke="#141414" stroke-width="0.104">1</text>
<text transform="translate(312.81,303.30) rotate(-90)" font-size="5.2" text-anchor="end" fill="#262626" stroke="#262626" stroke-width="0.156">AD.CD8</text>
<text x="293.40" y="239.06" font-size="6.3" text-anchor="middle" fill="#1a1a1a" stroke="#1a1a1a" stroke-width="0.189">MET_CNV</text>
<text x="328.80" y="258.70" font-size="5.3" text-anchor="start" fill="#1a1a1a" stroke="#1a1a1a" stroke-width="0.159">Class</text>
<text x="342.50" y="270.40" font-size="5.3" text-anchor="start" fill="#1a1a1a" stroke="#1a1a1a" stroke-width="0.159">loss</text>
<text x="342.50" y="281.00" font-size="5.3" text-anchor="start" fill="#1a1a1a" stroke="#1a1a1a" stroke-width="0.159">–</text>
<text x="342.50" y="291.60" font-size="5.3" text-anchor="start" fill="#1a1a1a" stroke="#1a1a1a" stroke-width="0.159">amp</text>
<text x="132.50" y="340.95" font-size="10.2" text-anchor="start" fill="#000" stroke="#000" stroke-width="0.306" font-weight="bold">F</text>
<text x="143.30" y="342.36" font-size="8.55" text-anchor="start" fill="#111" stroke="#111" stroke-width="0.257">LUSQ</text>
<text x="177.50" y="412.02" font-size="4.95" text-anchor="end" fill="#262626" stroke="#262626" stroke-width="0.148">0</text>
<text x="177.50" y="399.12" font-size="4.95" text-anchor="end" fill="#262626" stroke="#262626" stroke-width="0.148">25</text>
<text x="177.50" y="386.22" font-size="4.95" text-anchor="end" fill="#262626" stroke="#262626" stroke-width="0.148">50</text>
<text x="177.50" y="373.32" font-size="4.95" text-anchor="end" fill="#262626" stroke="#262626" stroke-width="0.148">75</text>
<text x="177.50" y="360.42" font-size="4.95" text-anchor="end" fill="#262626" stroke="#262626" stroke-width="0.148">100</text>
<text x="190.38" y="363.36" font-size="5.2" text-anchor="middle" fill="#141414" stroke="#141414" stroke-width="0.104">1</text>
<text x="190.38" y="372.45" font-size="5.2" text-anchor="middle" fill="#141414" stroke="#141414" stroke-width="0.104">6</text>
<text x="190.38" y="398.00" font-size="5.2" text-anchor="middle" fill="#141414" stroke="#141414" stroke-width="0.104">4</text>
<text transform="translate(192.24,415.00) rotate(-90)" font-size="5.2" text-anchor="end" fill="#262626" stroke="#262626" stroke-width="0.156">SQ.Cold</text>
<text x="208.50" y="365.36" font-size="5.2" text-anchor="middle" fill="#141414" stroke="#141414" stroke-width="0.104">4</text>
<text x="208.50" y="375.42" font-size="5.2" text-anchor="middle" fill="#141414" stroke="#141414" stroke-width="0.104">15</text>
<text transform="translate(210.36,415.00) rotate(-90)" font-size="5.2" text-anchor="end" fill="#262626" stroke="#262626" stroke-width="0.156">SQ.Myeloid</text>
<text x="226.62" y="365.36" font-size="5.2" text-anchor="middle" fill="#141414" stroke="#141414" stroke-width="0.104">8</text>
<text x="226.62" y="392.28" font-size="5.2" text-anchor="middle" fill="#141414" stroke="#141414" stroke-width="0.104">7</text>
<text transform="translate(228.49,415.00) rotate(-90)" font-size="5.2" text-anchor="end" fill="#262626" stroke="#262626" stroke-width="0.156">SQ.CD8</text>
<text x="208.30" y="352.56" font-size="6.3" text-anchor="middle" fill="#1a1a1a" stroke="#1a1a1a" stroke-width="0.189">TERT_CNV</text>
<text transform="translate(166.76,384.00) rotate(-90)" font-size="5.2" text-anchor="middle" fill="#1a1a1a" stroke="#1a1a1a" stroke-width="0.156">Frequency(%)</text>
<text x="262.00" y="412.02" font-size="4.95" text-anchor="end" fill="#262626" stroke="#262626" stroke-width="0.148">0</text>
<text x="262.00" y="399.12" font-size="4.95" text-anchor="end" fill="#262626" stroke="#262626" stroke-width="0.148">25</text>
<text x="262.00" y="386.22" font-size="4.95" text-anchor="end" fill="#262626" stroke="#262626" stroke-width="0.148">50</text>
<text x="262.00" y="373.32" font-size="4.95" text-anchor="end" fill="#262626" stroke="#262626" stroke-width="0.148">75</text>
<text x="262.00" y="360.42" font-size="4.95" text-anchor="end" fill="#262626" stroke="#262626" stroke-width="0.148">100</text>
<text x="275.19" y="362.76" font-size="5.2" text-anchor="middle" fill="#141414" stroke="#141414" stroke-width="0.104">1</text>
<text x="275.19" y="372.05" font-size="5.2" text-anchor="middle" fill="#141414" stroke="#141414" stroke-width="0.104">9</text>
<text x="275.19" y="409.27" font-size="5.2" text-anchor="middle" fill="#141414" stroke="#141414" stroke-width="0.104">1</text>
<text transform="translate(277.06,414.90) rotate(-90)" font-size="5.2" text-anchor="end" fill="#262626" stroke="#262626" stroke-width="0.156">SQ.Cold</text>
<text x="293.35" y="362.76" font-size="5.2" text-anchor="middle" fill="#141414" stroke="#141414" stroke-width="0.104">1</text>
<text x="293.35" y="370.08" font-size="5.2" text-anchor="middle" fill="#141414" stroke="#141414" stroke-width="0.104">17</text>
<text x="293.35" y="410.25" font-size="5.2" text-anchor="middle" fill="#141414" stroke="#141414" stroke-width="0.104">1</text>
<text transform="translate(295.21,414.90) rotate(-90)" font-size="5.2" text-anchor="end" fill="#262626" stroke="#262626" stroke-width="0.156">SQ.Myeloid</text>
<text x="311.51" y="363.96" font-size="5.2" text-anchor="middle" fill="#141414" stroke="#141414" stroke-width="0.104">9</text>
<text x="311.51" y="394.92" font-size="5.2" text-anchor="middle" fill="#141414" stroke="#141414" stroke-width="0.104">6</text>
<text transform="translate(313.37,414.90) rotate(-90)" font-size="5.2" text-anchor="end" fill="#262626" stroke="#262626" stroke-width="0.156">SQ.CD8</text>
<text x="294.40" y="352.56" font-size="6.3" text-anchor="middle" fill="#1a1a1a" stroke="#1a1a1a" stroke-width="0.189">MET_CNV</text>
<text x="330.50" y="369.90" font-size="5.3" text-anchor="start" fill="#1a1a1a" stroke="#1a1a1a" stroke-width="0.159">Class</text>
<text x="344.50" y="380.95" font-size="5.3" text-anchor="start" fill="#1a1a1a" stroke="#1a1a1a" stroke-width="0.159">loss</text>
<text x="344.50" y="391.40" font-size="5.3" text-anchor="start" fill="#1a1a1a" stroke="#1a1a1a" stroke-width="0.159">–</text>
<text x="344.50" y="401.85" font-size="5.3" text-anchor="start" fill="#1a1a1a" stroke="#1a1a1a" stroke-width="0.159">amp</text>
<text x="8.50" y="459.95" font-size="10.2" text-anchor="start" fill="#000" stroke="#000" stroke-width="0.306" font-weight="bold">G</text>
<text x="23.00" y="462.36" font-size="8.55" text-anchor="start" fill="#111" stroke="#111" stroke-width="0.257">LUAD</text>
<text x="33.00" y="471.22" font-size="6.2" text-anchor="start" fill="#1a1a1a" stroke="#1a1a1a" stroke-width="0.186">Cold</text>
<text x="29.40" y="479.94" font-size="5.15" text-anchor="end" fill="#1a1a1a" stroke="#1a1a1a" stroke-width="0.154">STK11</text>
<text x="29.40" y="488.57" font-size="5.15" text-anchor="end" fill="#1a1a1a" stroke="#1a1a1a" stroke-width="0.154">KRAS</text>
<text x="29.40" y="497.20" font-size="5.15" text-anchor="end" fill="#1a1a1a" stroke="#1a1a1a" stroke-width="0.154">TP53</text>
<text x="29.40" y="505.83" font-size="5.15" text-anchor="end" fill="#1a1a1a" stroke="#1a1a1a" stroke-width="0.154">MET_cnv</text>
<text x="29.40" y="514.46" font-size="5.15" text-anchor="end" fill="#1a1a1a" stroke="#1a1a1a" stroke-width="0.154">HERC1</text>
<text x="29.40" y="523.09" font-size="5.15" text-anchor="end" fill="#1a1a1a" stroke="#1a1a1a" stroke-width="0.154">TERT_cnv</text>
<text x="29.40" y="531.72" font-size="5.15" text-anchor="end" fill="#1a1a1a" stroke="#1a1a1a" stroke-width="0.154">driver_fusion</text>
<text x="29.40" y="540.35" font-size="5.15" text-anchor="end" fill="#1a1a1a" stroke="#1a1a1a" stroke-width="0.154">PIK3CA</text>
<text x="29.40" y="548.98" font-size="5.15" text-anchor="end" fill="#1a1a1a" stroke="#1a1a1a" stroke-width="0.154">NFE2L2</text>
<text x="29.40" y="557.61" font-size="5.15" text-anchor="end" fill="#1a1a1a" stroke="#1a1a1a" stroke-width="0.154">RB1</text>
<text x="29.40" y="566.24" font-size="5.15" text-anchor="end" fill="#1a1a1a" stroke="#1a1a1a" stroke-width="0.154">PTEN</text>
<text x="29.40" y="574.87" font-size="5.15" text-anchor="end" fill="#1a1a1a" stroke="#1a1a1a" stroke-width="0.154">BRAF</text>
<text x="29.40" y="583.50" font-size="5.15" text-anchor="end" fill="#1a1a1a" stroke="#1a1a1a" stroke-width="0.154">LRP1B</text>
<text x="29.40" y="592.13" font-size="5.15" text-anchor="end" fill="#1a1a1a" stroke="#1a1a1a" stroke-width="0.154">B2M</text>
<text x="29.40" y="600.76" font-size="5.15" text-anchor="end" fill="#1a1a1a" stroke="#1a1a1a" stroke-width="0.154">KEAP1</text>
<text x="29.40" y="609.39" font-size="5.15" text-anchor="end" fill="#1a1a1a" stroke="#1a1a1a" stroke-width="0.154">EGFR</text>
<text x="39.40" y="619.39" font-size="5.0" text-anchor="middle" fill="#262626" stroke="#262626" stroke-width="0.150">0.01</text>
<text x="61.20" y="619.39" font-size="5.0" text-anchor="middle" fill="#262626" stroke="#262626" stroke-width="0.150">0.10</text>
<text x="83.00" y="619.39" font-size="5.0" text-anchor="middle" fill="#262626" stroke="#262626" stroke-width="0.150">1.00</text>
<text x="57.70" y="627.10" font-size="5.3" text-anchor="middle" fill="#2a2a2a" font-style="italic">P</text>
<text x="121.90" y="471.22" font-size="6.2" text-anchor="start" fill="#1a1a1a" stroke="#1a1a1a" stroke-width="0.186">Myeloid</text>
<text x="116.60" y="479.94" font-size="5.15" text-anchor="end" fill="#1a1a1a" stroke="#1a1a1a" stroke-width="0.154">driver_fusion</text>
<text x="116.60" y="488.57" font-size="5.15" text-anchor="end" fill="#1a1a1a" stroke="#1a1a1a" stroke-width="0.154">TERT_cnv</text>
<text x="116.60" y="497.20" font-size="5.15" text-anchor="end" fill="#1a1a1a" stroke="#1a1a1a" stroke-width="0.154">MET_cnv</text>
<text x="116.60" y="505.83" font-size="5.15" text-anchor="end" fill="#1a1a1a" stroke="#1a1a1a" stroke-width="0.154">HERC1</text>
<text x="116.60" y="514.46" font-size="5.15" text-anchor="end" fill="#1a1a1a" stroke="#1a1a1a" stroke-width="0.154">PIK3CA</text>
<text x="116.60" y="523.09" font-size="5.15" text-anchor="end" fill="#1a1a1a" stroke="#1a1a1a" stroke-width="0.154">STK11</text>
<text x="116.60" y="531.72" font-size="5.15" text-anchor="end" fill="#1a1a1a" stroke="#1a1a1a" stroke-width="0.154">LRP1B</text>
<text x="116.60" y="540.35" font-size="5.15" text-anchor="end" fill="#1a1a1a" stroke="#1a1a1a" stroke-width="0.154">KRAS</text>
<text x="116.60" y="548.98" font-size="5.15" text-anchor="end" fill="#1a1a1a" stroke="#1a1a1a" stroke-width="0.154">NFE2L2</text>
<text x="116.60" y="557.61" font-size="5.15" text-anchor="end" fill="#1a1a1a" stroke="#1a1a1a" stroke-width="0.154">RB1</text>
<text x="116.60" y="566.24" font-size="5.15" text-anchor="end" fill="#1a1a1a" stroke="#1a1a1a" stroke-width="0.154">PTEN</text>
<text x="116.60" y="574.87" font-size="5.15" text-anchor="end" fill="#1a1a1a" stroke="#1a1a1a" stroke-width="0.154">BRAF</text>
<text x="116.60" y="583.50" font-size="5.15" text-anchor="end" fill="#1a1a1a" stroke="#1a1a1a" stroke-width="0.154">B2M</text>
<text x="116.60" y="592.13" font-size="5.15" text-anchor="end" fill="#1a1a1a" stroke="#1a1a1a" stroke-width="0.154">KEAP1</text>
<text x="116.60" y="600.76" font-size="5.15" text-anchor="end" fill="#1a1a1a" stroke="#1a1a1a" stroke-width="0.154">TP53</text>
<text x="116.60" y="609.39" font-size="5.15" text-anchor="end" fill="#1a1a1a" stroke="#1a1a1a" stroke-width="0.154">EGFR</text>
<text x="133.80" y="619.39" font-size="5.0" text-anchor="middle" fill="#262626" stroke="#262626" stroke-width="0.150">0.1</text>
<text x="151.10" y="619.39" font-size="5.0" text-anchor="middle" fill="#262626" stroke="#262626" stroke-width="0.150">0.3</text>
<text x="170.00" y="619.39" font-size="5.0" text-anchor="middle" fill="#262626" stroke="#262626" stroke-width="0.150">1.0</text>
<text x="145.00" y="627.10" font-size="5.3" text-anchor="middle" fill="#2a2a2a" font-style="italic">P</text>
<text x="206.20" y="471.22" font-size="6.2" text-anchor="start" fill="#1a1a1a" stroke="#1a1a1a" stroke-width="0.186">CD8</text>
<text x="202.80" y="479.94" font-size="5.15" text-anchor="end" fill="#1a1a1a" stroke="#1a1a1a" stroke-width="0.154">TERT_cnv</text>
<text x="202.80" y="488.57" font-size="5.15" text-anchor="end" fill="#1a1a1a" stroke="#1a1a1a" stroke-width="0.154">driver_fusion</text>
<text x="202.80" y="497.20" font-size="5.15" text-anchor="end" fill="#1a1a1a" stroke="#1a1a1a" stroke-width="0.154">LRP1B</text>
<text x="202.80" y="505.83" font-size="5.15" text-anchor="end" fill="#1a1a1a" stroke="#1a1a1a" stroke-width="0.154">PIK3CA</text>
<text x="202.80" y="514.46" font-size="5.15" text-anchor="end" fill="#1a1a1a" stroke="#1a1a1a" stroke-width="0.154">RB1</text>
<text x="202.80" y="523.09" font-size="5.15" text-anchor="end" fill="#1a1a1a" stroke="#1a1a1a" stroke-width="0.154">PTEN</text>
<text x="202.80" y="531.72" font-size="5.15" text-anchor="end" fill="#1a1a1a" stroke="#1a1a1a" stroke-width="0.154">TP53</text>
<text x="202.80" y="540.35" font-size="5.15" text-anchor="end" fill="#1a1a1a" stroke="#1a1a1a" stroke-width="0.154">KRAS</text>
<text x="202.80" y="548.98" font-size="5.15" text-anchor="end" fill="#1a1a1a" stroke="#1a1a1a" stroke-width="0.154">STK11</text>
<text x="202.80" y="557.61" font-size="5.15" text-anchor="end" fill="#1a1a1a" stroke="#1a1a1a" stroke-width="0.154">BRAF</text>
<text x="202.80" y="566.24" font-size="5.15" text-anchor="end" fill="#1a1a1a" stroke="#1a1a1a" stroke-width="0.154">MET_cnv</text>
<text x="202.80" y="574.87" font-size="5.15" text-anchor="end" fill="#1a1a1a" stroke="#1a1a1a" stroke-width="0.154">HERC1</text>
<text x="202.80" y="583.50" font-size="5.15" text-anchor="end" fill="#1a1a1a" stroke="#1a1a1a" stroke-width="0.154">NFE2L2</text>
<text x="202.80" y="592.13" font-size="5.15" text-anchor="end" fill="#1a1a1a" stroke="#1a1a1a" stroke-width="0.154">B2M</text>
<text x="202.80" y="600.76" font-size="5.15" text-anchor="end" fill="#1a1a1a" stroke="#1a1a1a" stroke-width="0.154">KEAP1</text>
<text x="202.80" y="609.39" font-size="5.15" text-anchor="end" fill="#1a1a1a" stroke="#1a1a1a" stroke-width="0.154">EGFR</text>
<text x="218.70" y="619.39" font-size="5.0" text-anchor="middle" fill="#262626" stroke="#262626" stroke-width="0.150">0.1</text>
<text x="236.50" y="619.39" font-size="5.0" text-anchor="middle" fill="#262626" stroke="#262626" stroke-width="0.150">0.3</text>
<text x="256.40" y="619.39" font-size="5.0" text-anchor="middle" fill="#262626" stroke="#262626" stroke-width="0.150">1.0</text>
<text x="232.70" y="627.10" font-size="5.3" text-anchor="middle" fill="#2a2a2a" font-style="italic">P</text>
<text x="271.00" y="460.15" font-size="10.2" text-anchor="start" fill="#000" stroke="#000" stroke-width="0.306" font-weight="bold">H</text>
<text x="284.80" y="462.26" font-size="8.55" text-anchor="start" fill="#111" stroke="#111" stroke-width="0.257">LUSQ</text>
<text x="293.50" y="471.22" font-size="6.2" text-anchor="start" fill="#1a1a1a" stroke="#1a1a1a" stroke-width="0.186">Cold</text>
<text x="289.30" y="480.49" font-size="5.0" text-anchor="end" fill="#1a1a1a" stroke="#1a1a1a" stroke-width="0.150">TP53</text>
<text x="289.30" y="490.36" font-size="5.0" text-anchor="end" fill="#1a1a1a" stroke="#1a1a1a" stroke-width="0.150">B2M</text>
<text x="289.30" y="500.22" font-size="5.0" text-anchor="end" fill="#1a1a1a" stroke="#1a1a1a" stroke-width="0.150">PIK3CA</text>
<text x="289.30" y="510.08" font-size="5.0" text-anchor="end" fill="#1a1a1a" stroke="#1a1a1a" stroke-width="0.150">RB1</text>
<text x="289.30" y="519.95" font-size="5.0" text-anchor="end" fill="#1a1a1a" stroke="#1a1a1a" stroke-width="0.150">EGFR</text>
<text x="289.30" y="529.81" font-size="5.0" text-anchor="end" fill="#1a1a1a" stroke="#1a1a1a" stroke-width="0.150">NFE2L2</text>
<text x="289.30" y="539.68" font-size="5.0" text-anchor="end" fill="#1a1a1a" stroke="#1a1a1a" stroke-width="0.150">LRP1B</text>
<text x="289.30" y="549.54" font-size="5.0" text-anchor="end" fill="#1a1a1a" stroke="#1a1a1a" stroke-width="0.150">driver_fusion</text>
<text x="289.30" y="559.41" font-size="5.0" text-anchor="end" fill="#1a1a1a" stroke="#1a1a1a" stroke-width="0.150">PTEN</text>
<text x="289.30" y="569.27" font-size="5.0" text-anchor="end" fill="#1a1a1a" stroke="#1a1a1a" stroke-width="0.150">BRAF</text>
<text x="289.30" y="579.14" font-size="5.0" text-anchor="end" fill="#1a1a1a" stroke="#1a1a1a" stroke-width="0.150">HERC1</text>
<text x="289.30" y="589.00" font-size="5.0" text-anchor="end" fill="#1a1a1a" stroke="#1a1a1a" stroke-width="0.150">KRAS</text>
<text x="289.30" y="598.87" font-size="5.0" text-anchor="end" fill="#1a1a1a" stroke="#1a1a1a" stroke-width="0.150">STK11</text>
<text x="289.30" y="608.73" font-size="5.0" text-anchor="end" fill="#1a1a1a" stroke="#1a1a1a" stroke-width="0.150">KEAP1</text>
<text x="304.60" y="619.39" font-size="5.0" text-anchor="middle" fill="#262626" stroke="#262626" stroke-width="0.150">0.1</text>
<text x="322.80" y="619.39" font-size="5.0" text-anchor="middle" fill="#262626" stroke="#262626" stroke-width="0.150">0.3</text>
<text x="342.50" y="619.39" font-size="5.0" text-anchor="middle" fill="#262626" stroke="#262626" stroke-width="0.150">1.0</text>
<text x="318.50" y="627.10" font-size="5.3" text-anchor="middle" fill="#2a2a2a" font-style="italic">P</text>
<text x="381.30" y="471.22" font-size="6.2" text-anchor="start" fill="#1a1a1a" stroke="#1a1a1a" stroke-width="0.186">Myeloid</text>
<text x="375.00" y="479.94" font-size="5.15" text-anchor="end" fill="#1a1a1a" stroke="#1a1a1a" stroke-width="0.154">TERT_cnv</text>
<text x="375.00" y="488.57" font-size="5.15" text-anchor="end" fill="#1a1a1a" stroke="#1a1a1a" stroke-width="0.154">MET_cnv</text>
<text x="375.00" y="497.20" font-size="5.15" text-anchor="end" fill="#1a1a1a" stroke="#1a1a1a" stroke-width="0.154">RB1</text>
<text x="375.00" y="505.83" font-size="5.15" text-anchor="end" fill="#1a1a1a" stroke="#1a1a1a" stroke-width="0.154">NFE2L2</text>
<text x="375.00" y="514.46" font-size="5.15" text-anchor="end" fill="#1a1a1a" stroke="#1a1a1a" stroke-width="0.154">PIK3CA</text>
<text x="375.00" y="523.09" font-size="5.15" text-anchor="end" fill="#1a1a1a" stroke="#1a1a1a" stroke-width="0.154">TP53</text>
<text x="375.00" y="531.72" font-size="5.15" text-anchor="end" fill="#1a1a1a" stroke="#1a1a1a" stroke-width="0.154">LRP1B</text>
<text x="375.00" y="540.35" font-size="5.15" text-anchor="end" fill="#1a1a1a" stroke="#1a1a1a" stroke-width="0.154">KEAP1</text>
<text x="375.00" y="548.98" font-size="5.15" text-anchor="end" fill="#1a1a1a" stroke="#1a1a1a" stroke-width="0.154">EGFR</text>
<text x="375.00" y="557.61" font-size="5.15" text-anchor="end" fill="#1a1a1a" stroke="#1a1a1a" stroke-width="0.154">PTEN</text>
<text x="375.00" y="574.87" font-size="5.15" text-anchor="end" fill="#1a1a1a" stroke="#1a1a1a" stroke-width="0.154">BRAF</text>
<text x="375.00" y="583.50" font-size="5.15" text-anchor="end" fill="#1a1a1a" stroke="#1a1a1a" stroke-width="0.154">HERC1</text>
<text x="375.00" y="592.13" font-size="5.15" text-anchor="end" fill="#1a1a1a" stroke="#1a1a1a" stroke-width="0.154">B2M</text>
<text x="375.00" y="600.76" font-size="5.15" text-anchor="end" fill="#1a1a1a" stroke="#1a1a1a" stroke-width="0.154">KRAS</text>
<text x="375.00" y="609.39" font-size="5.15" text-anchor="end" fill="#1a1a1a" stroke="#1a1a1a" stroke-width="0.154">STK11</text>
<text x="377.70" y="619.39" font-size="5.0" text-anchor="middle" fill="#262626" stroke="#262626" stroke-width="0.150">0.03</text>
<text x="395.20" y="619.39" font-size="5.0" text-anchor="middle" fill="#262626" stroke="#262626" stroke-width="0.150">0.10</text>
<text x="412.10" y="619.39" font-size="5.0" text-anchor="middle" fill="#262626" stroke="#262626" stroke-width="0.150">0.30</text>
<text x="428.70" y="619.39" font-size="5.0" text-anchor="middle" fill="#262626" stroke="#262626" stroke-width="0.150">1.00</text>
<text x="404.00" y="627.10" font-size="5.3" text-anchor="middle" fill="#2a2a2a" font-style="italic">P</text>
<text x="466.20" y="471.22" font-size="6.2" text-anchor="start" fill="#1a1a1a" stroke="#1a1a1a" stroke-width="0.186">CD8</text>
<text x="460.90" y="479.94" font-size="5.15" text-anchor="end" fill="#1a1a1a" stroke="#1a1a1a" stroke-width="0.154">RB1</text>
<text x="460.90" y="488.57" font-size="5.15" text-anchor="end" fill="#1a1a1a" stroke="#1a1a1a" stroke-width="0.154">TERT_cnv</text>
<text x="460.90" y="497.20" font-size="5.15" text-anchor="end" fill="#1a1a1a" stroke="#1a1a1a" stroke-width="0.154">NFE2L2</text>
<text x="460.90" y="505.83" font-size="5.15" text-anchor="end" fill="#1a1a1a" stroke="#1a1a1a" stroke-width="0.154">KEAP1</text>
<text x="460.90" y="514.46" font-size="5.15" text-anchor="end" fill="#1a1a1a" stroke="#1a1a1a" stroke-width="0.154">B2M</text>
<text x="460.90" y="523.09" font-size="5.15" text-anchor="end" fill="#1a1a1a" stroke="#1a1a1a" stroke-width="0.154">PTEN</text>
<text x="460.90" y="531.72" font-size="5.15" text-anchor="end" fill="#1a1a1a" stroke="#1a1a1a" stroke-width="0.154">MET_cnv</text>
<text x="460.90" y="540.35" font-size="5.15" text-anchor="end" fill="#1a1a1a" stroke="#1a1a1a" stroke-width="0.154">driver_fusion</text>
<text x="460.90" y="548.98" font-size="5.15" text-anchor="end" fill="#1a1a1a" stroke="#1a1a1a" stroke-width="0.154">PIK3CA</text>
<text x="460.90" y="557.61" font-size="5.15" text-anchor="end" fill="#1a1a1a" stroke="#1a1a1a" stroke-width="0.154">BRAF</text>
<text x="460.90" y="566.24" font-size="5.15" text-anchor="end" fill="#1a1a1a" stroke="#1a1a1a" stroke-width="0.154">LRP1B</text>
<text x="460.90" y="574.87" font-size="5.15" text-anchor="end" fill="#1a1a1a" stroke="#1a1a1a" stroke-width="0.154">HERC1</text>
<text x="460.90" y="583.50" font-size="5.15" text-anchor="end" fill="#1a1a1a" stroke="#1a1a1a" stroke-width="0.154">KRAS</text>
<text x="460.90" y="592.13" font-size="5.15" text-anchor="end" fill="#1a1a1a" stroke="#1a1a1a" stroke-width="0.154">STK11</text>
<text x="460.90" y="600.76" font-size="5.15" text-anchor="end" fill="#1a1a1a" stroke="#1a1a1a" stroke-width="0.154">TP53</text>
<text x="460.90" y="609.39" font-size="5.15" text-anchor="end" fill="#1a1a1a" stroke="#1a1a1a" stroke-width="0.154">EGFR</text>
<text x="465.30" y="619.39" font-size="5.0" text-anchor="middle" fill="#262626" stroke="#262626" stroke-width="0.150">0.03</text>
<text x="482.50" y="619.39" font-size="5.0" text-anchor="middle" fill="#262626" stroke="#262626" stroke-width="0.150">0.10</text>
<text x="498.80" y="619.39" font-size="5.0" text-anchor="middle" fill="#262626" stroke="#262626" stroke-width="0.150">0.30</text>
<text x="514.60" y="619.39" font-size="5.0" text-anchor="middle" fill="#262626" stroke="#262626" stroke-width="0.150">1.00</text>
<text x="490.80" y="627.10" font-size="5.3" text-anchor="middle" fill="#2a2a2a" font-style="italic">P</text>
</g>
<g id="counts">
<text x="44.12" y="30.72" font-size="3.8" text-anchor="middle" fill="#141414" stroke="#141414" stroke-width="0.106">7</text>
<text x="44.12" y="59.59" font-size="3.8" text-anchor="middle" fill="#141414" stroke="#141414" stroke-width="0.106">2</text>
<text x="44.12" y="66.49" font-size="3.8" text-anchor="middle" fill="#141414" stroke="#141414" stroke-width="0.106">1</text>
<text x="44.12" y="71.04" font-size="3.8" text-anchor="middle" fill="#141414" stroke="#141414" stroke-width="0.106">1</text>
<text x="44.12" y="78.29" font-size="3.8" text-anchor="middle" fill="#141414" stroke="#141414" stroke-width="0.106">2</text>
<text x="61.50" y="30.72" font-size="3.8" text-anchor="middle" fill="#141414" stroke="#141414" stroke-width="0.106">18</text>
<text x="61.50" y="61.02" font-size="3.8" text-anchor="middle" fill="#141414" stroke="#141414" stroke-width="0.106">3</text>
<text x="61.50" y="66.57" font-size="3.8" text-anchor="middle" fill="#141414" stroke="#141414" stroke-width="0.106">4</text>
<text x="61.50" y="71.30" font-size="3.8" text-anchor="middle" fill="#141414" stroke="#141414" stroke-width="0.106">1</text>
<text x="61.50" y="73.38" font-size="3.8" text-anchor="middle" fill="#141414" stroke="#141414" stroke-width="0.106">2</text>
<text x="61.50" y="76.55" font-size="3.8" text-anchor="middle" fill="#141414" stroke="#141414" stroke-width="0.106">2</text>
<text x="61.50" y="81.91" font-size="3.8" text-anchor="middle" fill="#141414" stroke="#141414" stroke-width="0.106">1</text>
<text x="78.88" y="30.72" font-size="3.8" text-anchor="middle" fill="#141414" stroke="#141414" stroke-width="0.106">13</text>
<text x="78.88" y="58.27" font-size="3.8" text-anchor="middle" fill="#141414" stroke="#141414" stroke-width="0.106">3</text>
<text x="78.88" y="66.90" font-size="3.8" text-anchor="middle" fill="#141414" stroke="#141414" stroke-width="0.106">5</text>
<text x="78.88" y="77.05" font-size="3.8" text-anchor="middle" fill="#141414" stroke="#141414" stroke-width="0.106">4</text>
<text x="192.09" y="29.73" font-size="3.8" text-anchor="middle" fill="#141414" stroke="#141414" stroke-width="0.106">10</text>
<text x="192.09" y="70.99" font-size="3.8" text-anchor="middle" fill="#141414" stroke="#141414" stroke-width="0.106">3</text>
<text x="209.90" y="29.73" font-size="3.8" text-anchor="middle" fill="#141414" stroke="#141414" stroke-width="0.106">18</text>
<text x="209.90" y="61.93" font-size="3.8" text-anchor="middle" fill="#141414" stroke="#141414" stroke-width="0.106">13</text>
<text x="227.71" y="29.73" font-size="3.8" text-anchor="middle" fill="#141414" stroke="#141414" stroke-width="0.106">13</text>
<text x="227.71" y="57.17" font-size="3.8" text-anchor="middle" fill="#141414" stroke="#141414" stroke-width="0.106">12</text>
<text x="276.99" y="30.51" font-size="3.8" text-anchor="middle" fill="#141414" stroke="#141414" stroke-width="0.106">11</text>
<text x="276.99" y="76.93" font-size="3.8" text-anchor="middle" fill="#141414" stroke="#141414" stroke-width="0.106">2</text>
<text x="294.65" y="30.51" font-size="3.8" text-anchor="middle" fill="#141414" stroke="#141414" stroke-width="0.106">31</text>
<text x="312.31" y="30.51" font-size="3.8" text-anchor="middle" fill="#141414" stroke="#141414" stroke-width="0.106">25</text>
<text x="357.47" y="30.52" font-size="3.8" text-anchor="middle" fill="#141414" stroke="#141414" stroke-width="0.106">10</text>
<text x="357.47" y="72.24" font-size="3.8" text-anchor="middle" fill="#141414" stroke="#141414" stroke-width="0.106">3</text>
<text x="375.25" y="30.52" font-size="3.8" text-anchor="middle" fill="#141414" stroke="#141414" stroke-width="0.106">31</text>
<text x="393.03" y="30.52" font-size="3.8" text-anchor="middle" fill="#141414" stroke="#141414" stroke-width="0.106">25</text>
<text x="432.61" y="30.36" font-size="3.8" text-anchor="middle" fill="#141414" stroke="#141414" stroke-width="0.106">13</text>
<text x="450.30" y="30.36" font-size="3.8" text-anchor="middle" fill="#141414" stroke="#141414" stroke-width="0.106">30</text>
<text x="450.30" y="81.66" font-size="3.8" text-anchor="middle" fill="#141414" stroke="#141414" stroke-width="0.106">1</text>
<text x="467.99" y="30.36" font-size="3.8" text-anchor="middle" fill="#141414" stroke="#141414" stroke-width="0.106">23</text>
<text x="467.99" y="78.99" font-size="3.8" text-anchor="middle" fill="#141414" stroke="#141414" stroke-width="0.106">2</text>
<text x="41.97" y="139.04" font-size="3.8" text-anchor="middle" fill="#141414" stroke="#141414" stroke-width="0.106">11</text>
<text x="59.25" y="139.04" font-size="3.8" text-anchor="middle" fill="#141414" stroke="#141414" stroke-width="0.106">17</text>
<text x="59.25" y="183.13" font-size="3.8" text-anchor="middle" fill="#141414" stroke="#141414" stroke-width="0.106">1</text>
<text x="59.25" y="186.66" font-size="3.8" text-anchor="middle" fill="#141414" stroke="#141414" stroke-width="0.106">1</text>
<text x="76.53" y="139.04" font-size="3.8" text-anchor="middle" fill="#141414" stroke="#141414" stroke-width="0.106">14</text>
<text x="76.53" y="186.30" font-size="3.8" text-anchor="middle" fill="#141414" stroke="#141414" stroke-width="0.106">1</text>
<text x="189.56" y="138.60" font-size="3.8" text-anchor="middle" fill="#141414" stroke="#141414" stroke-width="0.106">4</text>
<text x="189.56" y="156.61" font-size="3.8" text-anchor="middle" fill="#141414" stroke="#141414" stroke-width="0.106">7</text>
<text x="207.50" y="138.20" font-size="3.8" text-anchor="middle" fill="#141414" stroke="#141414" stroke-width="0.106">3</text>
<text x="207.50" y="145.74" font-size="3.8" text-anchor="middle" fill="#141414" stroke="#141414" stroke-width="0.106">16</text>
<text x="225.44" y="138.60" font-size="3.8" text-anchor="middle" fill="#141414" stroke="#141414" stroke-width="0.106">4</text>
<text x="225.44" y="151.69" font-size="3.8" text-anchor="middle" fill="#141414" stroke="#141414" stroke-width="0.106">11</text>
<text x="275.54" y="139.01" font-size="3.8" text-anchor="middle" fill="#141414" stroke="#141414" stroke-width="0.106">11</text>
<text x="293.45" y="139.01" font-size="3.8" text-anchor="middle" fill="#141414" stroke="#141414" stroke-width="0.106">19</text>
<text x="311.36" y="139.01" font-size="3.8" text-anchor="middle" fill="#141414" stroke="#141414" stroke-width="0.106">15</text>
<text x="357.88" y="139.01" font-size="3.8" text-anchor="middle" fill="#141414" stroke="#141414" stroke-width="0.106">11</text>
<text x="375.85" y="139.01" font-size="3.8" text-anchor="middle" fill="#141414" stroke="#141414" stroke-width="0.106">19</text>
<text x="393.82" y="139.01" font-size="3.8" text-anchor="middle" fill="#141414" stroke="#141414" stroke-width="0.106">15</text>
<text x="432.58" y="138.73" font-size="3.8" text-anchor="middle" fill="#141414" stroke="#141414" stroke-width="0.106">11</text>
<text x="450.55" y="138.73" font-size="3.8" text-anchor="middle" fill="#141414" stroke="#141414" stroke-width="0.106">19</text>
<text x="468.52" y="138.73" font-size="3.8" text-anchor="middle" fill="#141414" stroke="#141414" stroke-width="0.106">12</text>
<text x="468.52" y="181.70" font-size="3.8" text-anchor="middle" fill="#141414" stroke="#141414" stroke-width="0.106">3</text>
<text x="375.00" y="565.99" font-size="4.44" text-anchor="end" fill="#1a1a1a" stroke="#1a1a1a" stroke-width="0.133">driver_fusion</text>
</g>
</svg></body></html>
